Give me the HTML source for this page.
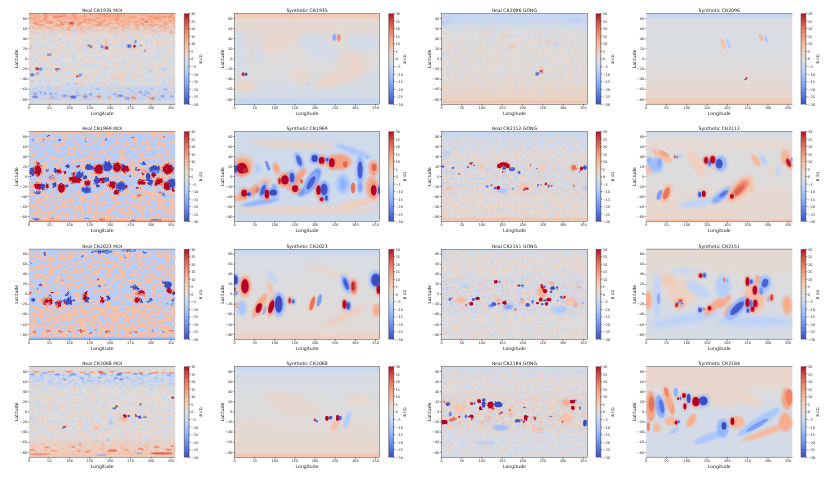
<!DOCTYPE html><html><head><meta charset="utf-8"><style>html,body{margin:0;padding:0;background:#fff;}svg{display:block}text{font-family:'DejaVu Sans', 'Liberation Sans', sans-serif;fill:#111;text-rendering:geometricPrecision}</style></head><body>
<svg width="830" height="478" viewBox="0 0 830 478">
<defs><linearGradient id="cb" x1="0" y1="1" x2="0" y2="0">
<stop offset="0" stop-color="#3b4cc0"/>
<stop offset="0.05" stop-color="#4961d2"/>
<stop offset="0.1" stop-color="#5977e3"/>
<stop offset="0.15" stop-color="#6a8bef"/>
<stop offset="0.2" stop-color="#7b9ff9"/>
<stop offset="0.25" stop-color="#8db0fe"/>
<stop offset="0.3" stop-color="#9ebeff"/>
<stop offset="0.35" stop-color="#afcafc"/>
<stop offset="0.4" stop-color="#c0d4f5"/>
<stop offset="0.45" stop-color="#cfdaea"/>
<stop offset="0.5" stop-color="#dddcdc"/>
<stop offset="0.55" stop-color="#e9d5cb"/>
<stop offset="0.6" stop-color="#f2cbb7"/>
<stop offset="0.65" stop-color="#f6bda2"/>
<stop offset="0.7" stop-color="#f7ac8e"/>
<stop offset="0.75" stop-color="#f4987a"/>
<stop offset="0.8" stop-color="#ee8468"/>
<stop offset="0.85" stop-color="#e36c55"/>
<stop offset="0.9" stop-color="#d65244"/>
<stop offset="0.95" stop-color="#c53334"/>
<stop offset="1" stop-color="#b40426"/>
</linearGradient>
<filter id="b0_4" x="-50%" y="-50%" width="200%" height="200%"><feGaussianBlur stdDeviation="0.4"/></filter>
<filter id="b0_6" x="-50%" y="-50%" width="200%" height="200%"><feGaussianBlur stdDeviation="0.6"/></filter>
<filter id="b0_8" x="-50%" y="-50%" width="200%" height="200%"><feGaussianBlur stdDeviation="0.8"/></filter>
<filter id="b1" x="-50%" y="-50%" width="200%" height="200%"><feGaussianBlur stdDeviation="1"/></filter>
<filter id="b1_5" x="-50%" y="-50%" width="200%" height="200%"><feGaussianBlur stdDeviation="1.5"/></filter>
<filter id="b2" x="-50%" y="-50%" width="200%" height="200%"><feGaussianBlur stdDeviation="2"/></filter>
<filter id="b3" x="-50%" y="-50%" width="200%" height="200%"><feGaussianBlur stdDeviation="3"/></filter>
<filter id="b4" x="-50%" y="-50%" width="200%" height="200%"><feGaussianBlur stdDeviation="4"/></filter>
<filter id="b6" x="-50%" y="-50%" width="200%" height="200%"><feGaussianBlur stdDeviation="6"/></filter>
<clipPath id="c00"><rect x="29.1" y="13.5" width="146.1" height="90.9"/></clipPath>
<clipPath id="c01"><rect x="234.5" y="13.5" width="145.1" height="90.9"/></clipPath>
<clipPath id="c02"><rect x="441.5" y="13.5" width="146" height="90.9"/></clipPath>
<clipPath id="c03"><rect x="646.2" y="13.5" width="146.1" height="90.9"/></clipPath>
<clipPath id="c10"><rect x="29.1" y="131.5" width="146.1" height="90.1"/></clipPath>
<clipPath id="c11"><rect x="234.5" y="131.5" width="145.1" height="90.1"/></clipPath>
<clipPath id="c12"><rect x="441.5" y="131.5" width="146" height="90.1"/></clipPath>
<clipPath id="c13"><rect x="646.2" y="131.5" width="146.1" height="90.1"/></clipPath>
<clipPath id="c20"><rect x="29.1" y="249.2" width="146.1" height="90.2"/></clipPath>
<clipPath id="c21"><rect x="234.5" y="249.2" width="145.1" height="90.2"/></clipPath>
<clipPath id="c22"><rect x="441.5" y="249.2" width="146" height="90.2"/></clipPath>
<clipPath id="c23"><rect x="646.2" y="249.2" width="146.1" height="90.2"/></clipPath>
<clipPath id="c30"><rect x="29.1" y="366.5" width="146.1" height="90.9"/></clipPath>
<clipPath id="c31"><rect x="234.5" y="366.5" width="145.1" height="90.9"/></clipPath>
<clipPath id="c32"><rect x="441.5" y="366.5" width="146" height="90.9"/></clipPath>
<clipPath id="c33"><rect x="646.2" y="366.5" width="146.1" height="90.9"/></clipPath>
<filter id="bz1" x="-50%" y="-50%" width="200%" height="200%"><feGaussianBlur stdDeviation="1"/></filter><filter id="bz2" x="-50%" y="-50%" width="200%" height="200%"><feGaussianBlur stdDeviation="2"/></filter><filter id="bz3" x="-50%" y="-50%" width="200%" height="200%"><feGaussianBlur stdDeviation="3"/></filter><filter id="bz4" x="-50%" y="-50%" width="200%" height="200%"><feGaussianBlur stdDeviation="4"/></filter><filter id="bz5" x="-50%" y="-50%" width="200%" height="200%"><feGaussianBlur stdDeviation="5"/></filter><filter id="bz6" x="-50%" y="-50%" width="200%" height="200%"><feGaussianBlur stdDeviation="6"/></filter><filter id="bz8" x="-50%" y="-50%" width="200%" height="200%"><feGaussianBlur stdDeviation="8"/></filter><filter id="bz10" x="-50%" y="-50%" width="200%" height="200%"><feGaussianBlur stdDeviation="10"/></filter><filter id="bz12" x="-50%" y="-50%" width="200%" height="200%"><feGaussianBlur stdDeviation="12"/></filter><filter id="bz15" x="-50%" y="-50%" width="200%" height="200%"><feGaussianBlur stdDeviation="15"/></filter><filter id="bz20" x="-50%" y="-50%" width="200%" height="200%"><feGaussianBlur stdDeviation="20"/></filter><filter id="bz25" x="-50%" y="-50%" width="200%" height="200%"><feGaussianBlur stdDeviation="25"/></filter><filter id="bz30" x="-50%" y="-50%" width="200%" height="200%"><feGaussianBlur stdDeviation="30"/></filter>
<linearGradient id="g00" x1="0" y1="0" x2="0" y2="478" gradientUnits="userSpaceOnUse"><stop offset="0.0000" stop-color="#f7ac8e"/><stop offset="0.0209" stop-color="#f7a688"/><stop offset="0.0628" stop-color="#f7ac8e"/><stop offset="0.1046" stop-color="#f7b89c"/><stop offset="0.1464" stop-color="#f3c7b1"/><stop offset="0.1987" stop-color="#edd2c3"/><stop offset="0.2615" stop-color="#e1dad6"/><stop offset="0.4184" stop-color="#dfdbd9"/><stop offset="0.6276" stop-color="#dfdbd9"/><stop offset="0.7741" stop-color="#d4dbe6"/><stop offset="0.8201" stop-color="#b5cdfa"/><stop offset="0.9414" stop-color="#b5cdfa"/><stop offset="0.9665" stop-color="#d8dce2"/><stop offset="1.0000" stop-color="#e1dad6"/></linearGradient><filter id="m00_0" x="0" y="40" width="764" height="438" filterUnits="userSpaceOnUse" color-interpolation-filters="sRGB"><feTurbulence type="fractalNoise" baseFrequency="0.032 0.05" numOctaves="2" seed="3"/><feColorMatrix type="matrix" values="2.5 0 0 0 -0.750 2.5 0 0 0 -0.750 2.5 0 0 0 -0.750 0 0 0 0 0.6"/><feComponentTransfer><feFuncR type="table" tableValues="0.753 0.780 0.812 0.839 0.867 0.890 0.914 0.933 0.949"/><feFuncG type="table" tableValues="0.831 0.843 0.855 0.863 0.863 0.851 0.835 0.816 0.796"/><feFuncB type="table" tableValues="0.961 0.941 0.918 0.894 0.863 0.827 0.796 0.753 0.718"/></feComponentTransfer></filter><linearGradient id="k00_0g" x1="0" y1="40" x2="0" y2="478" gradientUnits="userSpaceOnUse"><stop offset="0" stop-color="#fff" stop-opacity="0"/><stop offset="0.091" stop-color="#fff"/><stop offset="0.909" stop-color="#fff"/><stop offset="1" stop-color="#fff" stop-opacity="1"/></linearGradient><mask id="k00_0" maskUnits="userSpaceOnUse" x="0" y="0" width="764" height="478"><rect y="40" width="764" height="438" fill="url(#k00_0g)"/></mask><filter id="m00_1" x="0" y="0" width="764" height="110" filterUnits="userSpaceOnUse" color-interpolation-filters="sRGB"><feTurbulence type="fractalNoise" baseFrequency="0.04 0.07" numOctaves="2" seed="4"/><feColorMatrix type="matrix" values="2.5 0 0 0 -0.750 2.5 0 0 0 -0.750 2.5 0 0 0 -0.750 0 0 0 0 0.6"/><feComponentTransfer><feFuncR type="table" tableValues="0.914 0.937 0.949 0.961 0.969 0.969 0.965 0.953 0.941"/><feFuncG type="table" tableValues="0.835 0.812 0.788 0.753 0.722 0.678 0.639 0.592 0.545"/><feFuncB type="table" tableValues="0.796 0.749 0.706 0.655 0.612 0.565 0.522 0.471 0.431"/></feComponentTransfer></filter><linearGradient id="k00_1g" x1="0" y1="0" x2="0" y2="110" gradientUnits="userSpaceOnUse"><stop offset="0" stop-color="#fff" stop-opacity="1"/><stop offset="0.455" stop-color="#fff"/><stop offset="0.545" stop-color="#fff"/><stop offset="1" stop-color="#fff" stop-opacity="0"/></linearGradient><mask id="k00_1" maskUnits="userSpaceOnUse" x="0" y="0" width="764" height="478"><rect y="0" width="764" height="110" fill="url(#k00_1g)"/></mask><filter id="d00" x="-20" y="-20" width="804" height="518" filterUnits="userSpaceOnUse" color-interpolation-filters="sRGB"><feTurbulence type="fractalNoise" baseFrequency="0.1" numOctaves="2" seed="3" result="t"/><feDisplacementMap in="SourceGraphic" in2="t" scale="12" xChannelSelector="R" yChannelSelector="G"/></filter>
<linearGradient id="g01" x1="0" y1="0" x2="0" y2="478" gradientUnits="userSpaceOnUse"><stop offset="0.0000" stop-color="#f2cbb7"/><stop offset="0.0544" stop-color="#f2cbb7"/><stop offset="0.0628" stop-color="#e5d8d1"/><stop offset="0.2092" stop-color="#e1dad6"/><stop offset="0.6276" stop-color="#dddcdc"/><stop offset="0.9205" stop-color="#d4dbe6"/><stop offset="0.9414" stop-color="#c5d6f2"/><stop offset="1.0000" stop-color="#c5d6f2"/></linearGradient>
<linearGradient id="g02" x1="0" y1="0" x2="0" y2="478" gradientUnits="userSpaceOnUse"><stop offset="0.0000" stop-color="#cfdaea"/><stop offset="0.0209" stop-color="#c5d6f2"/><stop offset="0.0837" stop-color="#c7d7f0"/><stop offset="0.1674" stop-color="#d2dbe8"/><stop offset="0.2301" stop-color="#dddcdc"/><stop offset="0.4184" stop-color="#e1dad6"/><stop offset="0.6276" stop-color="#e1dad6"/><stop offset="0.7531" stop-color="#e5d8d1"/><stop offset="0.8368" stop-color="#edd2c3"/><stop offset="0.9414" stop-color="#edd2c3"/><stop offset="0.9561" stop-color="#edd2c3"/><stop offset="0.9603" stop-color="#f6bda2"/><stop offset="0.9707" stop-color="#f6bda2"/><stop offset="0.9770" stop-color="#e9d5cb"/><stop offset="1.0000" stop-color="#e9d5cb"/></linearGradient><filter id="m02_0" x="0" y="30" width="764" height="425" filterUnits="userSpaceOnUse" color-interpolation-filters="sRGB"><feTurbulence type="fractalNoise" baseFrequency="0.032 0.05" numOctaves="2" seed="11"/><feColorMatrix type="matrix" values="2.5 0 0 0 -0.750 2.5 0 0 0 -0.750 2.5 0 0 0 -0.750 0 0 0 0 0.4"/><feComponentTransfer><feFuncR type="table" tableValues="0.773 0.800 0.824 0.843 0.867 0.886 0.906 0.925 0.937"/><feFuncG type="table" tableValues="0.839 0.851 0.859 0.863 0.863 0.855 0.843 0.827 0.808"/><feFuncB type="table" tableValues="0.949 0.929 0.910 0.890 0.863 0.835 0.808 0.773 0.741"/></feComponentTransfer></filter><linearGradient id="k02_0g" x1="0" y1="30" x2="0" y2="455" gradientUnits="userSpaceOnUse"><stop offset="0" stop-color="#fff" stop-opacity="0"/><stop offset="0.118" stop-color="#fff"/><stop offset="0.882" stop-color="#fff"/><stop offset="1" stop-color="#fff" stop-opacity="0"/></linearGradient><mask id="k02_0" maskUnits="userSpaceOnUse" x="0" y="0" width="764" height="478"><rect y="30" width="764" height="425" fill="url(#k02_0g)"/></mask><filter id="d02" x="-20" y="-20" width="804" height="518" filterUnits="userSpaceOnUse" color-interpolation-filters="sRGB"><feTurbulence type="fractalNoise" baseFrequency="0.1" numOctaves="2" seed="5" result="t"/><feDisplacementMap in="SourceGraphic" in2="t" scale="12" xChannelSelector="R" yChannelSelector="G"/></filter>
<linearGradient id="g03" x1="0" y1="0" x2="0" y2="478" gradientUnits="userSpaceOnUse"><stop offset="0.0000" stop-color="#c5d6f2"/><stop offset="0.0523" stop-color="#c5d6f2"/><stop offset="0.0628" stop-color="#d8dce2"/><stop offset="0.4184" stop-color="#dadce0"/><stop offset="0.7322" stop-color="#e1dad6"/><stop offset="0.9205" stop-color="#e9d5cb"/><stop offset="0.9519" stop-color="#f2cbb7"/><stop offset="1.0000" stop-color="#f2cbb7"/></linearGradient>
<linearGradient id="g10" x1="0" y1="0" x2="0" y2="478" gradientUnits="userSpaceOnUse"><stop offset="0.0000" stop-color="#f5c1a9"/><stop offset="0.0167" stop-color="#f5c1a9"/><stop offset="0.0251" stop-color="#b5cdfa"/><stop offset="0.9623" stop-color="#b5cdfa"/><stop offset="0.9707" stop-color="#f5a081"/><stop offset="1.0000" stop-color="#f5a081"/></linearGradient><filter id="t10_0" x="0" y="10" width="764" height="140" filterUnits="userSpaceOnUse" color-interpolation-filters="sRGB"><feTurbulence type="fractalNoise" baseFrequency="0.03 0.06" numOctaves="3" seed="5"/><feColorMatrix type="matrix" values="0 0 0 0 0.961 0 0 0 0 0.757 0 0 0 0 0.663 12 0 0 0 -6.1"/></filter><filter id="t10_1" x="0" y="150" width="764" height="180" filterUnits="userSpaceOnUse" color-interpolation-filters="sRGB"><feTurbulence type="fractalNoise" baseFrequency="0.03 0.06" numOctaves="3" seed="5"/><feColorMatrix type="matrix" values="0 0 0 0 0.961 0 0 0 0 0.757 0 0 0 0 0.663 12 0 0 0 -5.9"/></filter><filter id="t10_2" x="0" y="330" width="764" height="132" filterUnits="userSpaceOnUse" color-interpolation-filters="sRGB"><feTurbulence type="fractalNoise" baseFrequency="0.03 0.06" numOctaves="3" seed="5"/><feColorMatrix type="matrix" values="0 0 0 0 0.961 0 0 0 0 0.757 0 0 0 0 0.663 12 0 0 0 -5.4"/></filter><filter id="d10" x="-20" y="-20" width="804" height="518" filterUnits="userSpaceOnUse" color-interpolation-filters="sRGB"><feTurbulence type="fractalNoise" baseFrequency="0.09" numOctaves="2" seed="7" result="t"/><feDisplacementMap in="SourceGraphic" in2="t" scale="20" xChannelSelector="R" yChannelSelector="G"/></filter>
<linearGradient id="g11" x1="0" y1="0" x2="0" y2="478" gradientUnits="userSpaceOnUse"><stop offset="0.0000" stop-color="#cfdaea"/><stop offset="1.0000" stop-color="#cfdaea"/></linearGradient>
<linearGradient id="g12" x1="0" y1="0" x2="0" y2="478" gradientUnits="userSpaceOnUse"><stop offset="0.0000" stop-color="#cfdaea"/><stop offset="0.0167" stop-color="#c5d6f2"/><stop offset="0.0523" stop-color="#cad8ef"/><stop offset="0.2092" stop-color="#d4dbe6"/><stop offset="0.2406" stop-color="#e5d8d1"/><stop offset="0.3138" stop-color="#e1dad6"/><stop offset="0.4812" stop-color="#d4dbe6"/><stop offset="0.5649" stop-color="#d8dce2"/><stop offset="0.6904" stop-color="#e5d8d1"/><stop offset="0.9414" stop-color="#e9d5cb"/><stop offset="0.9540" stop-color="#f5c1a9"/><stop offset="0.9665" stop-color="#f5c1a9"/><stop offset="0.9749" stop-color="#e9d5cb"/><stop offset="1.0000" stop-color="#e9d5cb"/></linearGradient><filter id="m12_0" x="0" y="30" width="764" height="420" filterUnits="userSpaceOnUse" color-interpolation-filters="sRGB"><feTurbulence type="fractalNoise" baseFrequency="0.032 0.05" numOctaves="2" seed="21"/><feColorMatrix type="matrix" values="2.5 0 0 0 -0.750 2.5 0 0 0 -0.750 2.5 0 0 0 -0.750 0 0 0 0 0.5"/><feComponentTransfer><feFuncR type="table" tableValues="0.753 0.780 0.812 0.839 0.867 0.890 0.914 0.933 0.949"/><feFuncG type="table" tableValues="0.831 0.843 0.855 0.863 0.863 0.851 0.835 0.816 0.796"/><feFuncB type="table" tableValues="0.961 0.941 0.918 0.894 0.863 0.827 0.796 0.753 0.718"/></feComponentTransfer></filter><filter id="m12_1" x="0" y="140" width="764" height="200" filterUnits="userSpaceOnUse" color-interpolation-filters="sRGB"><feTurbulence type="fractalNoise" baseFrequency="0.045 0.07" numOctaves="2" seed="23"/><feColorMatrix type="matrix" values="2.2 0 0 0 -0.600 2.2 0 0 0 -0.600 2.2 0 0 0 -0.600 0 0 0 0 0.5"/><feComponentTransfer><feFuncR type="table" tableValues="0.686 0.737 0.780 0.827 0.867 0.902 0.933 0.953 0.965"/><feFuncG type="table" tableValues="0.792 0.824 0.843 0.859 0.863 0.843 0.816 0.784 0.741"/><feFuncB type="table" tableValues="0.988 0.969 0.941 0.906 0.863 0.812 0.753 0.698 0.635"/></feComponentTransfer></filter><linearGradient id="k12_1g" x1="0" y1="140" x2="0" y2="340" gradientUnits="userSpaceOnUse"><stop offset="0" stop-color="#fff" stop-opacity="0"/><stop offset="0.250" stop-color="#fff"/><stop offset="0.750" stop-color="#fff"/><stop offset="1" stop-color="#fff" stop-opacity="0"/></linearGradient><mask id="k12_1" maskUnits="userSpaceOnUse" x="0" y="0" width="764" height="478"><rect y="140" width="764" height="200" fill="url(#k12_1g)"/></mask><filter id="d12" x="-20" y="-20" width="804" height="518" filterUnits="userSpaceOnUse" color-interpolation-filters="sRGB"><feTurbulence type="fractalNoise" baseFrequency="0.1" numOctaves="2" seed="8" result="t"/><feDisplacementMap in="SourceGraphic" in2="t" scale="12" xChannelSelector="R" yChannelSelector="G"/></filter>
<linearGradient id="g13" x1="0" y1="0" x2="0" y2="478" gradientUnits="userSpaceOnUse"><stop offset="0.0000" stop-color="#d4dbe6"/><stop offset="0.0418" stop-color="#d4dbe6"/><stop offset="0.0628" stop-color="#dddcdc"/><stop offset="0.1674" stop-color="#e5d8d1"/><stop offset="0.2301" stop-color="#dddcdc"/><stop offset="0.5230" stop-color="#dddcdc"/><stop offset="0.7950" stop-color="#e5d8d1"/><stop offset="0.9519" stop-color="#e9d5cb"/><stop offset="0.9665" stop-color="#f5c1a9"/><stop offset="0.9833" stop-color="#f5c1a9"/><stop offset="1.0000" stop-color="#e9d5cb"/></linearGradient>
<linearGradient id="g20" x1="0" y1="0" x2="0" y2="478" gradientUnits="userSpaceOnUse"><stop offset="0.0000" stop-color="#f5c1a9"/><stop offset="0.0105" stop-color="#b5cdfa"/><stop offset="0.9623" stop-color="#b5cdfa"/><stop offset="0.9749" stop-color="#9ebeff"/><stop offset="1.0000" stop-color="#9ebeff"/></linearGradient><filter id="t20_0" x="0" y="25" width="764" height="175" filterUnits="userSpaceOnUse" color-interpolation-filters="sRGB"><feTurbulence type="fractalNoise" baseFrequency="0.03 0.06" numOctaves="3" seed="9"/><feColorMatrix type="matrix" values="0 0 0 0 0.961 0 0 0 0 0.757 0 0 0 0 0.663 12 0 0 0 -5.6"/></filter><filter id="t20_1" x="0" y="200" width="764" height="100" filterUnits="userSpaceOnUse" color-interpolation-filters="sRGB"><feTurbulence type="fractalNoise" baseFrequency="0.03 0.06" numOctaves="3" seed="9"/><feColorMatrix type="matrix" values="0 0 0 0 0.961 0 0 0 0 0.757 0 0 0 0 0.663 12 0 0 0 -6.2"/></filter><filter id="t20_2" x="0" y="300" width="764" height="162" filterUnits="userSpaceOnUse" color-interpolation-filters="sRGB"><feTurbulence type="fractalNoise" baseFrequency="0.03 0.06" numOctaves="3" seed="9"/><feColorMatrix type="matrix" values="0 0 0 0 0.961 0 0 0 0 0.757 0 0 0 0 0.663 12 0 0 0 -4.9"/></filter><filter id="d20" x="-20" y="-20" width="804" height="518" filterUnits="userSpaceOnUse" color-interpolation-filters="sRGB"><feTurbulence type="fractalNoise" baseFrequency="0.09" numOctaves="2" seed="23" result="t"/><feDisplacementMap in="SourceGraphic" in2="t" scale="20" xChannelSelector="R" yChannelSelector="G"/></filter>
<linearGradient id="g21" x1="0" y1="0" x2="0" y2="478" gradientUnits="userSpaceOnUse"><stop offset="0.0000" stop-color="#cfdaea"/><stop offset="0.0167" stop-color="#c5d6f2"/><stop offset="0.0523" stop-color="#cad8ef"/><stop offset="0.0837" stop-color="#d8dce2"/><stop offset="0.5230" stop-color="#dddcdc"/><stop offset="0.8996" stop-color="#e1dad6"/><stop offset="0.9623" stop-color="#edd2c3"/><stop offset="1.0000" stop-color="#edd2c3"/></linearGradient>
<linearGradient id="g22" x1="0" y1="0" x2="0" y2="478" gradientUnits="userSpaceOnUse"><stop offset="0.0000" stop-color="#d4dbe6"/><stop offset="0.0209" stop-color="#cfdaea"/><stop offset="0.1255" stop-color="#e5d8d1"/><stop offset="0.2720" stop-color="#e1dad6"/><stop offset="0.3347" stop-color="#d4dbe6"/><stop offset="0.6904" stop-color="#d4dbe6"/><stop offset="0.7322" stop-color="#dddcdc"/><stop offset="0.9414" stop-color="#e1dad6"/><stop offset="1.0000" stop-color="#dddcdc"/></linearGradient><filter id="m22_0" x="0" y="20" width="764" height="450" filterUnits="userSpaceOnUse" color-interpolation-filters="sRGB"><feTurbulence type="fractalNoise" baseFrequency="0.032 0.05" numOctaves="2" seed="31"/><feColorMatrix type="matrix" values="2.5 0 0 0 -0.750 2.5 0 0 0 -0.750 2.5 0 0 0 -0.750 0 0 0 0 0.5"/><feComponentTransfer><feFuncR type="table" tableValues="0.753 0.780 0.812 0.839 0.867 0.890 0.914 0.933 0.949"/><feFuncG type="table" tableValues="0.831 0.843 0.855 0.863 0.863 0.851 0.835 0.816 0.796"/><feFuncB type="table" tableValues="0.961 0.941 0.918 0.894 0.863 0.827 0.796 0.753 0.718"/></feComponentTransfer></filter><filter id="m22_1" x="0" y="140" width="764" height="210" filterUnits="userSpaceOnUse" color-interpolation-filters="sRGB"><feTurbulence type="fractalNoise" baseFrequency="0.045 0.07" numOctaves="2" seed="33"/><feColorMatrix type="matrix" values="2.2 0 0 0 -0.600 2.2 0 0 0 -0.600 2.2 0 0 0 -0.600 0 0 0 0 0.5"/><feComponentTransfer><feFuncR type="table" tableValues="0.667 0.725 0.773 0.824 0.867 0.906 0.937 0.961 0.969"/><feFuncG type="table" tableValues="0.780 0.816 0.839 0.859 0.863 0.843 0.808 0.769 0.722"/><feFuncB type="table" tableValues="0.992 0.976 0.949 0.910 0.863 0.808 0.741 0.675 0.612"/></feComponentTransfer></filter><linearGradient id="k22_1g" x1="0" y1="140" x2="0" y2="350" gradientUnits="userSpaceOnUse"><stop offset="0" stop-color="#fff" stop-opacity="0"/><stop offset="0.238" stop-color="#fff"/><stop offset="0.762" stop-color="#fff"/><stop offset="1" stop-color="#fff" stop-opacity="0"/></linearGradient><mask id="k22_1" maskUnits="userSpaceOnUse" x="0" y="0" width="764" height="478"><rect y="140" width="764" height="210" fill="url(#k22_1g)"/></mask><filter id="d22" x="-20" y="-20" width="804" height="518" filterUnits="userSpaceOnUse" color-interpolation-filters="sRGB"><feTurbulence type="fractalNoise" baseFrequency="0.09" numOctaves="2" seed="25" result="t"/><feDisplacementMap in="SourceGraphic" in2="t" scale="12" xChannelSelector="R" yChannelSelector="G"/></filter>
<linearGradient id="g23" x1="0" y1="0" x2="0" y2="478" gradientUnits="userSpaceOnUse"><stop offset="0.0000" stop-color="#e1dad6"/><stop offset="0.0209" stop-color="#e3d9d3"/><stop offset="0.2092" stop-color="#e3d9d3"/><stop offset="0.3347" stop-color="#dddcdc"/><stop offset="0.6276" stop-color="#d8dce2"/><stop offset="0.8787" stop-color="#d4dbe6"/><stop offset="0.9833" stop-color="#d8dce2"/><stop offset="1.0000" stop-color="#d8dce2"/></linearGradient>
<linearGradient id="g30" x1="0" y1="0" x2="0" y2="478" gradientUnits="userSpaceOnUse"><stop offset="0.0000" stop-color="#dddcdc"/><stop offset="0.0314" stop-color="#dddcdc"/><stop offset="0.0523" stop-color="#e9d5cb"/><stop offset="0.0941" stop-color="#d4dbe6"/><stop offset="0.1255" stop-color="#c5d6f2"/><stop offset="0.2092" stop-color="#cad8ef"/><stop offset="0.2510" stop-color="#dddcdc"/><stop offset="0.4184" stop-color="#e1dad6"/><stop offset="0.6276" stop-color="#e1dad6"/><stop offset="0.7950" stop-color="#e5d8d1"/><stop offset="0.8368" stop-color="#efcebd"/><stop offset="0.9205" stop-color="#f2cbb7"/><stop offset="0.9623" stop-color="#f5c1a9"/><stop offset="0.9833" stop-color="#e9d5cb"/><stop offset="1.0000" stop-color="#dddcdc"/></linearGradient><filter id="m30_0" x="0" y="60" width="764" height="360" filterUnits="userSpaceOnUse" color-interpolation-filters="sRGB"><feTurbulence type="fractalNoise" baseFrequency="0.032 0.05" numOctaves="2" seed="41"/><feColorMatrix type="matrix" values="2.5 0 0 0 -0.750 2.5 0 0 0 -0.750 2.5 0 0 0 -0.750 0 0 0 0 0.6"/><feComponentTransfer><feFuncR type="table" tableValues="0.753 0.780 0.812 0.839 0.867 0.890 0.914 0.933 0.949"/><feFuncG type="table" tableValues="0.831 0.843 0.855 0.863 0.863 0.851 0.835 0.816 0.796"/><feFuncB type="table" tableValues="0.961 0.941 0.918 0.894 0.863 0.827 0.796 0.753 0.718"/></feComponentTransfer></filter><linearGradient id="k30_0g" x1="0" y1="60" x2="0" y2="420" gradientUnits="userSpaceOnUse"><stop offset="0" stop-color="#fff" stop-opacity="0"/><stop offset="0.111" stop-color="#fff"/><stop offset="0.889" stop-color="#fff"/><stop offset="1" stop-color="#fff" stop-opacity="0"/></linearGradient><mask id="k30_0" maskUnits="userSpaceOnUse" x="0" y="0" width="764" height="478"><rect y="60" width="764" height="360" fill="url(#k30_0g)"/></mask><filter id="m30_1" x="0" y="15" width="764" height="95" filterUnits="userSpaceOnUse" color-interpolation-filters="sRGB"><feTurbulence type="fractalNoise" baseFrequency="0.04 0.07" numOctaves="2" seed="43"/><feColorMatrix type="matrix" values="2.5 0 0 0 -0.750 2.5 0 0 0 -0.750 2.5 0 0 0 -0.750 0 0 0 0 0.6"/><feComponentTransfer><feFuncR type="table" tableValues="0.620 0.667 0.710 0.753 0.792 0.831 0.867 0.898 0.929"/><feFuncG type="table" tableValues="0.745 0.780 0.804 0.831 0.847 0.859 0.863 0.847 0.824"/><feFuncB type="table" tableValues="1.000 0.992 0.980 0.961 0.937 0.902 0.863 0.820 0.765"/></feComponentTransfer></filter><linearGradient id="k30_1g" x1="0" y1="15" x2="0" y2="110" gradientUnits="userSpaceOnUse"><stop offset="0" stop-color="#fff" stop-opacity="0"/><stop offset="0.316" stop-color="#fff"/><stop offset="0.684" stop-color="#fff"/><stop offset="1" stop-color="#fff" stop-opacity="0"/></linearGradient><mask id="k30_1" maskUnits="userSpaceOnUse" x="0" y="0" width="764" height="478"><rect y="15" width="764" height="95" fill="url(#k30_1g)"/></mask><filter id="m30_2" x="0" y="385" width="764" height="87" filterUnits="userSpaceOnUse" color-interpolation-filters="sRGB"><feTurbulence type="fractalNoise" baseFrequency="0.04 0.08" numOctaves="2" seed="44"/><feColorMatrix type="matrix" values="2.5 0 0 0 -0.750 2.5 0 0 0 -0.750 2.5 0 0 0 -0.750 0 0 0 0 0.5"/><feComponentTransfer><feFuncR type="table" tableValues="0.812 0.847 0.878 0.910 0.933 0.949 0.961 0.969 0.969"/><feFuncG type="table" tableValues="0.855 0.863 0.859 0.839 0.816 0.788 0.753 0.718 0.675"/><feFuncB type="table" tableValues="0.918 0.886 0.847 0.800 0.753 0.706 0.655 0.608 0.557"/></feComponentTransfer></filter><linearGradient id="k30_2g" x1="0" y1="385" x2="0" y2="472" gradientUnits="userSpaceOnUse"><stop offset="0" stop-color="#fff" stop-opacity="0"/><stop offset="0.345" stop-color="#fff"/><stop offset="0.655" stop-color="#fff"/><stop offset="1" stop-color="#fff" stop-opacity="0"/></linearGradient><mask id="k30_2" maskUnits="userSpaceOnUse" x="0" y="0" width="764" height="478"><rect y="385" width="764" height="87" fill="url(#k30_2g)"/></mask><filter id="d30" x="-20" y="-20" width="804" height="518" filterUnits="userSpaceOnUse" color-interpolation-filters="sRGB"><feTurbulence type="fractalNoise" baseFrequency="0.1" numOctaves="2" seed="33" result="t"/><feDisplacementMap in="SourceGraphic" in2="t" scale="12" xChannelSelector="R" yChannelSelector="G"/></filter>
<linearGradient id="g31" x1="0" y1="0" x2="0" y2="478" gradientUnits="userSpaceOnUse"><stop offset="0.0000" stop-color="#c5d6f2"/><stop offset="0.0460" stop-color="#c5d6f2"/><stop offset="0.0586" stop-color="#d4dbe6"/><stop offset="0.1464" stop-color="#d8dce2"/><stop offset="0.5230" stop-color="#dddcdc"/><stop offset="0.7950" stop-color="#e5d8d1"/><stop offset="0.9414" stop-color="#e9d5cb"/><stop offset="0.9540" stop-color="#f3c7b1"/><stop offset="0.9833" stop-color="#f3c7b1"/><stop offset="1.0000" stop-color="#e9d5cb"/></linearGradient>
<linearGradient id="g32" x1="0" y1="0" x2="0" y2="478" gradientUnits="userSpaceOnUse"><stop offset="0.0000" stop-color="#d4dbe6"/><stop offset="0.0209" stop-color="#cfdaea"/><stop offset="0.1674" stop-color="#e1dad6"/><stop offset="0.2720" stop-color="#dddcdc"/><stop offset="0.2929" stop-color="#e5d8d1"/><stop offset="0.6904" stop-color="#e1dad6"/><stop offset="0.7531" stop-color="#d4dbe6"/><stop offset="0.9623" stop-color="#d8dce2"/><stop offset="1.0000" stop-color="#d8dce2"/></linearGradient><filter id="m32_0" x="0" y="20" width="764" height="450" filterUnits="userSpaceOnUse" color-interpolation-filters="sRGB"><feTurbulence type="fractalNoise" baseFrequency="0.032 0.05" numOctaves="2" seed="51"/><feColorMatrix type="matrix" values="2.5 0 0 0 -0.750 2.5 0 0 0 -0.750 2.5 0 0 0 -0.750 0 0 0 0 0.5"/><feComponentTransfer><feFuncR type="table" tableValues="0.753 0.780 0.812 0.839 0.867 0.890 0.914 0.933 0.949"/><feFuncG type="table" tableValues="0.831 0.843 0.855 0.863 0.863 0.851 0.835 0.816 0.796"/><feFuncB type="table" tableValues="0.961 0.941 0.918 0.894 0.863 0.827 0.796 0.753 0.718"/></feComponentTransfer></filter><filter id="m32_1" x="0" y="130" width="764" height="220" filterUnits="userSpaceOnUse" color-interpolation-filters="sRGB"><feTurbulence type="fractalNoise" baseFrequency="0.045 0.07" numOctaves="2" seed="53"/><feColorMatrix type="matrix" values="2.2 0 0 0 -0.600 2.2 0 0 0 -0.600 2.2 0 0 0 -0.600 0 0 0 0 0.5"/><feComponentTransfer><feFuncR type="table" tableValues="0.686 0.745 0.800 0.847 0.890 0.929 0.953 0.969 0.969"/><feFuncG type="table" tableValues="0.792 0.824 0.851 0.863 0.851 0.824 0.784 0.729 0.675"/><feFuncB type="table" tableValues="0.988 0.965 0.929 0.886 0.827 0.765 0.698 0.624 0.557"/></feComponentTransfer></filter><linearGradient id="k32_1g" x1="0" y1="130" x2="0" y2="350" gradientUnits="userSpaceOnUse"><stop offset="0" stop-color="#fff" stop-opacity="0"/><stop offset="0.227" stop-color="#fff"/><stop offset="0.773" stop-color="#fff"/><stop offset="1" stop-color="#fff" stop-opacity="0"/></linearGradient><mask id="k32_1" maskUnits="userSpaceOnUse" x="0" y="0" width="764" height="478"><rect y="130" width="764" height="220" fill="url(#k32_1g)"/></mask><filter id="d32" x="-20" y="-20" width="804" height="518" filterUnits="userSpaceOnUse" color-interpolation-filters="sRGB"><feTurbulence type="fractalNoise" baseFrequency="0.1" numOctaves="2" seed="35" result="t"/><feDisplacementMap in="SourceGraphic" in2="t" scale="12" xChannelSelector="R" yChannelSelector="G"/></filter>
<linearGradient id="g33" x1="0" y1="0" x2="0" y2="478" gradientUnits="userSpaceOnUse"><stop offset="0.0000" stop-color="#e9d5cb"/><stop offset="0.1883" stop-color="#e9d5cb"/><stop offset="0.2720" stop-color="#dddcdc"/><stop offset="0.4184" stop-color="#d4dbe6"/><stop offset="1.0000" stop-color="#d4dbe6"/></linearGradient>
</defs>
<g clip-path="url(#c00)"><g transform="translate(29.1 13.5)">
<g transform="translate(-0.1 -0.5) scale(0.19241)"><rect width="764" height="478" fill="url(#g00)"/><g mask="url(#k00_0)"><rect y="40" width="764" height="438" filter="url(#m00_0)"/></g><g mask="url(#k00_1)"><rect y="0" width="764" height="110" filter="url(#m00_1)"/></g><g filter="url(#d00)"><g filter="url(#bz3)"><ellipse cx="153" cy="18" rx="28" ry="6" fill="#ee8468"/></g><g filter="url(#bz6)"><ellipse cx="420" cy="16" rx="45" ry="5" fill="#f4987a"/><ellipse cx="660" cy="26" rx="30" ry="8" fill="#f29274"/><ellipse cx="232" cy="22" rx="30" ry="5" fill="#f5a081"/><ellipse cx="343" cy="32" rx="20" ry="5" fill="#f5a081"/><ellipse cx="30" cy="30" rx="25" ry="6" fill="#f7a688"/></g><g filter="url(#bz3)"><ellipse cx="222.7" cy="54.2" rx="14" ry="6" fill="#cc403a"/><ellipse cx="39.4" cy="56" rx="10" ry="5" fill="#ee8468"/></g><g filter="url(#bz6)"><ellipse cx="85.8" cy="41.2" rx="10" ry="6" fill="#f29274"/><ellipse cx="139" cy="66.7" rx="8" ry="6" fill="#f29274"/></g><g filter="url(#bz3)"><ellipse cx="174" cy="59.8" rx="8" ry="6" fill="#ee8468"/></g><g filter="url(#bz6)"><ellipse cx="255" cy="59.8" rx="8" ry="6" fill="#f29274"/><ellipse cx="306" cy="41.2" rx="12" ry="6" fill="#f29274"/></g><g filter="url(#bz3)"><ellipse cx="369" cy="52.8" rx="12" ry="8" fill="#ee8468"/></g><g filter="url(#bz6)"><ellipse cx="266.8" cy="78.3" rx="8" ry="6" fill="#f5a081"/></g><g filter="url(#bz3)"><ellipse cx="204" cy="85.3" rx="5" ry="5" fill="#e7745b"/><ellipse cx="220" cy="52" rx="14" ry="6" fill="#d1493f"/></g><g filter="url(#bz6)"><ellipse cx="40" cy="56" rx="12" ry="5" fill="#f29274"/></g><g filter="url(#bz3)"><ellipse cx="610" cy="45" rx="12" ry="6" fill="#e7745b"/></g><g filter="url(#bz6)"><ellipse cx="370" cy="50" rx="10" ry="6" fill="#f5a081"/><ellipse cx="500" cy="55" rx="10" ry="5" fill="#f5a081"/><ellipse cx="710" cy="75" rx="8" ry="6" fill="#f29274"/><ellipse cx="280" cy="95" rx="8" ry="6" fill="#f7ac8e"/><ellipse cx="650" cy="100" rx="10" ry="5" fill="#f7ac8e"/><ellipse cx="180" cy="80" rx="15" ry="5" fill="#f7b89c"/><ellipse cx="450" cy="100" rx="10" ry="5" fill="#f7b89c"/><ellipse cx="740" cy="100" rx="10" ry="8" fill="#f5a081"/><ellipse cx="405" cy="170" rx="6" ry="6" fill="#f7ac8e"/></g><g filter="url(#bz2_5)"><ellipse cx="32.4" cy="420" rx="12" ry="6" fill="#7b9ff9"/><ellipse cx="32.4" cy="436.2" rx="16" ry="6" fill="#6485ec"/><ellipse cx="83.4" cy="420" rx="7" ry="6" fill="#86a9fc"/><ellipse cx="60.2" cy="413" rx="6" ry="5" fill="#86a9fc"/><ellipse cx="113.5" cy="420" rx="9" ry="5" fill="#86a9fc"/><ellipse cx="139" cy="417.7" rx="9" ry="4" fill="#86a9fc"/><ellipse cx="125" cy="443.2" rx="23" ry="5" fill="#9ebeff"/><ellipse cx="118" cy="434" rx="12" ry="4" fill="#f29274"/><ellipse cx="185.3" cy="430.7" rx="14" ry="6" fill="#6f92f3"/><ellipse cx="229.3" cy="436.2" rx="16" ry="7" fill="#4961d2"/><ellipse cx="206.2" cy="431.6" rx="5" ry="4" fill="#f5a081"/><ellipse cx="252.5" cy="429.3" rx="10" ry="5" fill="#86a9fc"/><ellipse cx="291.9" cy="434" rx="12" ry="5" fill="#6485ec"/><ellipse cx="319.7" cy="422.3" rx="8" ry="5" fill="#6485ec"/><ellipse cx="291.9" cy="443.2" rx="10" ry="3" fill="#f5a081"/><ellipse cx="363.7" cy="434" rx="12" ry="5" fill="#e7745b"/><ellipse cx="250.2" cy="413" rx="9" ry="4" fill="#93b5fe"/><ellipse cx="97.3" cy="385.3" rx="7" ry="5" fill="#9ebeff"/><ellipse cx="247.9" cy="366.7" rx="5" ry="4" fill="#f29274"/><ellipse cx="18.5" cy="355.1" rx="5" ry="4" fill="#f5a081"/><ellipse cx="9.3" cy="413" rx="6" ry="4" fill="#93b5fe"/><ellipse cx="203.9" cy="369" rx="6" ry="4" fill="#aac7fd"/><ellipse cx="356.7" cy="394.5" rx="8" ry="5" fill="#93b5fe"/><ellipse cx="444.3" cy="422.3" rx="9" ry="4" fill="#6f92f3"/><ellipse cx="474.4" cy="430.7" rx="14" ry="5" fill="#5977e3"/><ellipse cx="511.4" cy="443.2" rx="12" ry="5" fill="#6485ec"/><ellipse cx="543.9" cy="440.9" rx="14" ry="6" fill="#ee8468"/><ellipse cx="497.5" cy="434" rx="10" ry="4" fill="#f5a081"/><ellipse cx="416.5" cy="436.2" rx="10" ry="4" fill="#f5a081"/><ellipse cx="458.2" cy="436.2" rx="8" ry="4" fill="#f7ac8e"/><ellipse cx="578.6" cy="410.7" rx="9" ry="5" fill="#6f92f3"/><ellipse cx="608.7" cy="408.4" rx="8" ry="4" fill="#86a9fc"/><ellipse cx="620.3" cy="417.7" rx="10" ry="4" fill="#7b9ff9"/><ellipse cx="597.1" cy="427" rx="12" ry="4" fill="#7b9ff9"/><ellipse cx="643.5" cy="443.2" rx="14" ry="5" fill="#e0654f"/><ellipse cx="620.3" cy="438.5" rx="8" ry="4" fill="#f29274"/><ellipse cx="555.5" cy="417.7" rx="6" ry="4" fill="#f7ac8e"/><ellipse cx="694.4" cy="431.6" rx="12" ry="5" fill="#6f92f3"/><ellipse cx="710.7" cy="396.8" rx="7" ry="4" fill="#6f92f3"/><ellipse cx="675.9" cy="445.5" rx="8" ry="4" fill="#93b5fe"/><ellipse cx="740.8" cy="434" rx="10" ry="5" fill="#86a9fc"/><ellipse cx="722.2" cy="413" rx="6" ry="4" fill="#f7ac8e"/><ellipse cx="532.3" cy="408.4" rx="7" ry="4" fill="#93b5fe"/><ellipse cx="518.4" cy="394.5" rx="7" ry="4" fill="#9ebeff"/><ellipse cx="750" cy="355" rx="5" ry="4" fill="#f7ac8e"/><ellipse cx="638.8" cy="394.5" rx="8" ry="4" fill="#93b5fe"/></g><g filter="url(#bz6)"><ellipse cx="470" cy="330" rx="40" ry="10" fill="#f2cbb7" transform="rotate(-15 470 330)"/><ellipse cx="700" cy="290" rx="10" ry="8" fill="#aac7fd"/><ellipse cx="630" cy="300" rx="10" ry="8" fill="#aac7fd"/></g><g filter="url(#bz3)"><ellipse cx="310" cy="170" rx="7" ry="6" fill="#5977e3"/><ellipse cx="322" cy="176" rx="6" ry="6" fill="#c0282f"/><ellipse cx="380" cy="175" rx="9" ry="6" fill="#5977e3" transform="rotate(30 380 175)"/><ellipse cx="403" cy="181" rx="8" ry="9" fill="#b40426"/></g><g filter="url(#bz6)"><ellipse cx="400" cy="150" rx="8" ry="10" fill="#f7b89c"/></g><g filter="url(#bz3)"><ellipse cx="520" cy="172" rx="12" ry="10" fill="#4f69d9"/><ellipse cx="548" cy="172" rx="7" ry="8" fill="#b40426"/><ellipse cx="582" cy="170" rx="5" ry="5" fill="#d65244"/><ellipse cx="553" cy="150" rx="7" ry="5" fill="#5977e3"/><ellipse cx="602" cy="196" rx="5" ry="7" fill="#6f92f3"/><ellipse cx="100" cy="218" rx="4" ry="6" fill="#c0282f"/><ellipse cx="112" cy="218" rx="4" ry="6" fill="#4f69d9"/><ellipse cx="42" cy="290" rx="8" ry="7" fill="#b40426"/><ellipse cx="60" cy="292" rx="9" ry="8" fill="#4f69d9"/><ellipse cx="142" cy="293" rx="6" ry="6" fill="#c0282f"/><ellipse cx="155" cy="292" rx="6" ry="6" fill="#5977e3"/><ellipse cx="15" cy="322" rx="9" ry="8" fill="#4f69d9"/><ellipse cx="45" cy="315" rx="8" ry="6" fill="#6f92f3"/><ellipse cx="30" cy="322" rx="4" ry="4" fill="#e7745b"/><ellipse cx="252" cy="328" rx="6" ry="6" fill="#c0282f"/><ellipse cx="268" cy="323" rx="6" ry="6" fill="#5977e3"/></g><g filter="url(#bz6)"><ellipse cx="12" cy="180" rx="5" ry="7" fill="#f29274"/></g></g></g>
</g></g>
<path d="M28.9 13.5h146.5M28.9 104.4h146.5" stroke="#222" stroke-width="0.4"/>
<path d="M29.1 104.4v1.6M49.39 104.4v1.6M69.68 104.4v1.6M89.97 104.4v1.6M110.27 104.4v1.6M130.56 104.4v1.6M150.85 104.4v1.6M171.14 104.4v1.6M29.1 99.35h-1.6M29.1 89.25h-1.6M29.1 79.15h-1.6M29.1 69.05h-1.6M29.1 58.95h-1.6M29.1 48.85h-1.6M29.1 38.75h-1.6M29.1 28.65h-1.6M29.1 18.55h-1.6" stroke="#222" stroke-width="0.5"/>
<text transform="translate(29.1 109) scale(0.1)" font-size="33.5" text-anchor="middle">0</text>
<text transform="translate(49.39 109) scale(0.1)" font-size="33.5" text-anchor="middle">50</text>
<text transform="translate(69.68 109) scale(0.1)" font-size="33.5" text-anchor="middle">100</text>
<text transform="translate(89.97 109) scale(0.1)" font-size="33.5" text-anchor="middle">150</text>
<text transform="translate(110.27 109) scale(0.1)" font-size="33.5" text-anchor="middle">200</text>
<text transform="translate(130.56 109) scale(0.1)" font-size="33.5" text-anchor="middle">250</text>
<text transform="translate(150.85 109) scale(0.1)" font-size="33.5" text-anchor="middle">300</text>
<text transform="translate(171.14 109) scale(0.1)" font-size="33.5" text-anchor="middle">350</text>
<text transform="translate(27 100.5) scale(0.1)" font-size="33.5" text-anchor="end">−80</text>
<text transform="translate(27 90.4) scale(0.1)" font-size="33.5" text-anchor="end">−60</text>
<text transform="translate(27 80.3) scale(0.1)" font-size="33.5" text-anchor="end">−40</text>
<text transform="translate(27 70.2) scale(0.1)" font-size="33.5" text-anchor="end">−20</text>
<text transform="translate(27 60.1) scale(0.1)" font-size="33.5" text-anchor="end">0</text>
<text transform="translate(27 50) scale(0.1)" font-size="33.5" text-anchor="end">20</text>
<text transform="translate(27 39.9) scale(0.1)" font-size="33.5" text-anchor="end">40</text>
<text transform="translate(27 29.8) scale(0.1)" font-size="33.5" text-anchor="end">60</text>
<text transform="translate(27 19.7) scale(0.1)" font-size="33.5" text-anchor="end">80</text>
<text transform="translate(102.15 114.8) scale(0.1)" font-size="46" text-anchor="middle">Longitude</text>
<text transform="translate(18.4 58.95) rotate(-90) scale(0.1)" font-size="46" text-anchor="middle">Latitude</text>
<text transform="translate(102.15 12.4) scale(0.1)" font-size="46" text-anchor="middle">Real CR1935 MDI</text>
<rect x="184.3" y="13.5" width="4.7" height="90.9" fill="url(#cb)"/>
<path d="M184.3 13.5v90.9M189 13.5v90.9" stroke="#222" stroke-width="0.5"/>
<path d="M189 104.4h1.5M189 96.83h1.5M189 89.25h1.5M189 81.68h1.5M189 74.1h1.5M189 66.53h1.5M189 58.95h1.5M189 51.38h1.5M189 43.8h1.5M189 36.23h1.5M189 28.65h1.5M189 21.07h1.5M189 13.5h1.5" stroke="#222" stroke-width="0.5"/>
<text transform="translate(191.2 105.9) scale(0.1)" font-size="33.5">−30</text>
<text transform="translate(191.2 98.33) scale(0.1)" font-size="33.5">−25</text>
<text transform="translate(191.2 90.75) scale(0.1)" font-size="33.5">−20</text>
<text transform="translate(191.2 83.18) scale(0.1)" font-size="33.5">−15</text>
<text transform="translate(191.2 75.6) scale(0.1)" font-size="33.5">−10</text>
<text transform="translate(191.2 68.03) scale(0.1)" font-size="33.5">−5</text>
<text transform="translate(191.2 60.45) scale(0.1)" font-size="33.5">0</text>
<text transform="translate(191.2 52.88) scale(0.1)" font-size="33.5">5</text>
<text transform="translate(191.2 45.3) scale(0.1)" font-size="33.5">10</text>
<text transform="translate(191.2 37.73) scale(0.1)" font-size="33.5">15</text>
<text transform="translate(191.2 30.15) scale(0.1)" font-size="33.5">20</text>
<text transform="translate(191.2 22.57) scale(0.1)" font-size="33.5">25</text>
<text transform="translate(191.2 15) scale(0.1)" font-size="33.5">30</text>
<text transform="translate(201.9 58.95) rotate(-90) scale(0.1)" font-size="36" text-anchor="middle">B (G)</text>
<g clip-path="url(#c01)"><g transform="translate(234.5 13.5)">
<g transform="translate(-0.5 -0.5) scale(0.19241)"><rect width="764" height="478" fill="url(#g01)"/><g filter="url(#bz10)"><ellipse cx="30" cy="200" rx="35" ry="110" fill="#d4dbe6"/><ellipse cx="130" cy="210" rx="25" ry="60" fill="#d4dbe6"/><ellipse cx="440" cy="180" rx="110" ry="60" fill="#d4dbe6" transform="rotate(35 440 180)"/><ellipse cx="670" cy="155" rx="90" ry="45" fill="#d4dbe6"/><ellipse cx="380" cy="390" rx="300" ry="40" fill="#d4dbe6"/><ellipse cx="700" cy="330" rx="70" ry="30" fill="#d4dbe6"/><ellipse cx="250" cy="130" rx="120" ry="50" fill="#e9d5cb" transform="rotate(-30 250 130)"/><ellipse cx="560" cy="330" rx="150" ry="40" fill="#e9d5cb" transform="rotate(-20 560 330)"/><ellipse cx="350" cy="330" rx="60" ry="50" fill="#e5d8d1" transform="rotate(20 350 330)"/><ellipse cx="610" cy="240" rx="60" ry="40" fill="#e9d5cb"/><ellipse cx="60" cy="380" rx="60" ry="30" fill="#e9d5cb"/><ellipse cx="300" cy="80" rx="200" ry="20" fill="#e5d8d1"/></g><g filter="url(#bz4)"><ellipse cx="521" cy="126" rx="9" ry="18" fill="#81a4fb"/><ellipse cx="545" cy="129" rx="9" ry="19" fill="#f08b6e"/></g><g filter="url(#bz2_5)"><ellipse cx="48" cy="318" rx="8" ry="10" fill="#c0282f"/><ellipse cx="63" cy="318" rx="7" ry="9" fill="#445acc"/></g><g filter="url(#bz6)"><ellipse cx="97" cy="210" rx="3" ry="10" fill="#f7b89c"/><ellipse cx="380" cy="365" rx="8" ry="5" fill="#aac7fd"/></g></g>
</g></g>
<rect x="234.5" y="13.5" width="145.1" height="90.9" fill="none" stroke="#222" stroke-width="0.4"/>
<path d="M234.5 104.4v1.6M254.65 104.4v1.6M274.81 104.4v1.6M294.96 104.4v1.6M315.11 104.4v1.6M335.26 104.4v1.6M355.42 104.4v1.6M375.57 104.4v1.6M234.5 99.35h-1.6M234.5 89.25h-1.6M234.5 79.15h-1.6M234.5 69.05h-1.6M234.5 58.95h-1.6M234.5 48.85h-1.6M234.5 38.75h-1.6M234.5 28.65h-1.6M234.5 18.55h-1.6" stroke="#222" stroke-width="0.5"/>
<text transform="translate(234.5 109) scale(0.1)" font-size="33.5" text-anchor="middle">0</text>
<text transform="translate(254.65 109) scale(0.1)" font-size="33.5" text-anchor="middle">50</text>
<text transform="translate(274.81 109) scale(0.1)" font-size="33.5" text-anchor="middle">100</text>
<text transform="translate(294.96 109) scale(0.1)" font-size="33.5" text-anchor="middle">150</text>
<text transform="translate(315.11 109) scale(0.1)" font-size="33.5" text-anchor="middle">200</text>
<text transform="translate(335.26 109) scale(0.1)" font-size="33.5" text-anchor="middle">250</text>
<text transform="translate(355.42 109) scale(0.1)" font-size="33.5" text-anchor="middle">300</text>
<text transform="translate(375.57 109) scale(0.1)" font-size="33.5" text-anchor="middle">350</text>
<text transform="translate(232.4 100.5) scale(0.1)" font-size="33.5" text-anchor="end">−80</text>
<text transform="translate(232.4 90.4) scale(0.1)" font-size="33.5" text-anchor="end">−60</text>
<text transform="translate(232.4 80.3) scale(0.1)" font-size="33.5" text-anchor="end">−40</text>
<text transform="translate(232.4 70.2) scale(0.1)" font-size="33.5" text-anchor="end">−20</text>
<text transform="translate(232.4 60.1) scale(0.1)" font-size="33.5" text-anchor="end">0</text>
<text transform="translate(232.4 50) scale(0.1)" font-size="33.5" text-anchor="end">20</text>
<text transform="translate(232.4 39.9) scale(0.1)" font-size="33.5" text-anchor="end">40</text>
<text transform="translate(232.4 29.8) scale(0.1)" font-size="33.5" text-anchor="end">60</text>
<text transform="translate(232.4 19.7) scale(0.1)" font-size="33.5" text-anchor="end">80</text>
<text transform="translate(307.05 114.8) scale(0.1)" font-size="46" text-anchor="middle">Longitude</text>
<text transform="translate(223.8 58.95) rotate(-90) scale(0.1)" font-size="46" text-anchor="middle">Latitude</text>
<text transform="translate(307.05 12.4) scale(0.1)" font-size="46" text-anchor="middle">Synthetic CR1935</text>
<rect x="388.8" y="13.5" width="4.7" height="90.9" fill="url(#cb)"/>
<path d="M388.8 13.5v90.9M393.5 13.5v90.9" stroke="#222" stroke-width="0.5"/>
<path d="M393.5 104.4h1.5M393.5 96.83h1.5M393.5 89.25h1.5M393.5 81.68h1.5M393.5 74.1h1.5M393.5 66.53h1.5M393.5 58.95h1.5M393.5 51.38h1.5M393.5 43.8h1.5M393.5 36.23h1.5M393.5 28.65h1.5M393.5 21.07h1.5M393.5 13.5h1.5" stroke="#222" stroke-width="0.5"/>
<text transform="translate(395.7 105.9) scale(0.1)" font-size="33.5">−30</text>
<text transform="translate(395.7 98.33) scale(0.1)" font-size="33.5">−25</text>
<text transform="translate(395.7 90.75) scale(0.1)" font-size="33.5">−20</text>
<text transform="translate(395.7 83.18) scale(0.1)" font-size="33.5">−15</text>
<text transform="translate(395.7 75.6) scale(0.1)" font-size="33.5">−10</text>
<text transform="translate(395.7 68.03) scale(0.1)" font-size="33.5">−5</text>
<text transform="translate(395.7 60.45) scale(0.1)" font-size="33.5">0</text>
<text transform="translate(395.7 52.88) scale(0.1)" font-size="33.5">5</text>
<text transform="translate(395.7 45.3) scale(0.1)" font-size="33.5">10</text>
<text transform="translate(395.7 37.73) scale(0.1)" font-size="33.5">15</text>
<text transform="translate(395.7 30.15) scale(0.1)" font-size="33.5">20</text>
<text transform="translate(395.7 22.57) scale(0.1)" font-size="33.5">25</text>
<text transform="translate(395.7 15) scale(0.1)" font-size="33.5">30</text>
<text transform="translate(406.4 58.95) rotate(-90) scale(0.1)" font-size="36" text-anchor="middle">B (G)</text>
<g clip-path="url(#c02)"><g transform="translate(441.5 13.5)">
<g transform="translate(-0.5 -0.5) scale(0.19241)"><rect width="764" height="478" fill="url(#g02)"/><g mask="url(#k02_0)"><rect y="30" width="764" height="425" filter="url(#m02_0)"/></g><g filter="url(#d02)"><g filter="url(#bz3)"><ellipse cx="500" cy="316" rx="10" ry="10" fill="#4f69d9"/><ellipse cx="522" cy="303" rx="9" ry="7" fill="#c0282f"/></g><g filter="url(#bz6)"><ellipse cx="525" cy="290" rx="5" ry="6" fill="#f29274"/><ellipse cx="370" cy="172" rx="12" ry="8" fill="#f7b89c"/><ellipse cx="555" cy="150" rx="12" ry="6" fill="#f5c1a9"/><ellipse cx="600" cy="160" rx="12" ry="8" fill="#b5cdfa"/><ellipse cx="20" cy="50" rx="30" ry="8" fill="#b5cdfa"/><ellipse cx="700" cy="40" rx="40" ry="8" fill="#b5cdfa"/><ellipse cx="230" cy="95" rx="20" ry="5" fill="#f2cbb7"/><ellipse cx="330" cy="120" rx="20" ry="8" fill="#f2cbb7"/></g></g></g>
</g></g>
<rect x="441.5" y="13.5" width="146" height="90.9" fill="none" stroke="#222" stroke-width="0.4"/>
<path d="M441.5 104.4v1.6M461.78 104.4v1.6M482.06 104.4v1.6M502.33 104.4v1.6M522.61 104.4v1.6M542.89 104.4v1.6M563.17 104.4v1.6M583.44 104.4v1.6M441.5 99.35h-1.6M441.5 89.25h-1.6M441.5 79.15h-1.6M441.5 69.05h-1.6M441.5 58.95h-1.6M441.5 48.85h-1.6M441.5 38.75h-1.6M441.5 28.65h-1.6M441.5 18.55h-1.6" stroke="#222" stroke-width="0.5"/>
<text transform="translate(441.5 109) scale(0.1)" font-size="33.5" text-anchor="middle">0</text>
<text transform="translate(461.78 109) scale(0.1)" font-size="33.5" text-anchor="middle">50</text>
<text transform="translate(482.06 109) scale(0.1)" font-size="33.5" text-anchor="middle">100</text>
<text transform="translate(502.33 109) scale(0.1)" font-size="33.5" text-anchor="middle">150</text>
<text transform="translate(522.61 109) scale(0.1)" font-size="33.5" text-anchor="middle">200</text>
<text transform="translate(542.89 109) scale(0.1)" font-size="33.5" text-anchor="middle">250</text>
<text transform="translate(563.17 109) scale(0.1)" font-size="33.5" text-anchor="middle">300</text>
<text transform="translate(583.44 109) scale(0.1)" font-size="33.5" text-anchor="middle">350</text>
<text transform="translate(439.4 100.5) scale(0.1)" font-size="33.5" text-anchor="end">−80</text>
<text transform="translate(439.4 90.4) scale(0.1)" font-size="33.5" text-anchor="end">−60</text>
<text transform="translate(439.4 80.3) scale(0.1)" font-size="33.5" text-anchor="end">−40</text>
<text transform="translate(439.4 70.2) scale(0.1)" font-size="33.5" text-anchor="end">−20</text>
<text transform="translate(439.4 60.1) scale(0.1)" font-size="33.5" text-anchor="end">0</text>
<text transform="translate(439.4 50) scale(0.1)" font-size="33.5" text-anchor="end">20</text>
<text transform="translate(439.4 39.9) scale(0.1)" font-size="33.5" text-anchor="end">40</text>
<text transform="translate(439.4 29.8) scale(0.1)" font-size="33.5" text-anchor="end">60</text>
<text transform="translate(439.4 19.7) scale(0.1)" font-size="33.5" text-anchor="end">80</text>
<text transform="translate(514.5 114.8) scale(0.1)" font-size="46" text-anchor="middle">Longitude</text>
<text transform="translate(430.8 58.95) rotate(-90) scale(0.1)" font-size="46" text-anchor="middle">Latitude</text>
<text transform="translate(514.5 12.4) scale(0.1)" font-size="46" text-anchor="middle">Real CR2096 GONG</text>
<rect x="596.1" y="13.5" width="4.7" height="90.9" fill="url(#cb)"/>
<path d="M596.1 13.5v90.9M600.8 13.5v90.9" stroke="#222" stroke-width="0.5"/>
<path d="M600.8 104.4h1.5M600.8 96.83h1.5M600.8 89.25h1.5M600.8 81.68h1.5M600.8 74.1h1.5M600.8 66.53h1.5M600.8 58.95h1.5M600.8 51.38h1.5M600.8 43.8h1.5M600.8 36.23h1.5M600.8 28.65h1.5M600.8 21.07h1.5M600.8 13.5h1.5" stroke="#222" stroke-width="0.5"/>
<text transform="translate(603 105.9) scale(0.1)" font-size="33.5">−30</text>
<text transform="translate(603 98.33) scale(0.1)" font-size="33.5">−25</text>
<text transform="translate(603 90.75) scale(0.1)" font-size="33.5">−20</text>
<text transform="translate(603 83.18) scale(0.1)" font-size="33.5">−15</text>
<text transform="translate(603 75.6) scale(0.1)" font-size="33.5">−10</text>
<text transform="translate(603 68.03) scale(0.1)" font-size="33.5">−5</text>
<text transform="translate(603 60.45) scale(0.1)" font-size="33.5">0</text>
<text transform="translate(603 52.88) scale(0.1)" font-size="33.5">5</text>
<text transform="translate(603 45.3) scale(0.1)" font-size="33.5">10</text>
<text transform="translate(603 37.73) scale(0.1)" font-size="33.5">15</text>
<text transform="translate(603 30.15) scale(0.1)" font-size="33.5">20</text>
<text transform="translate(603 22.57) scale(0.1)" font-size="33.5">25</text>
<text transform="translate(603 15) scale(0.1)" font-size="33.5">30</text>
<text transform="translate(613.7 58.95) rotate(-90) scale(0.1)" font-size="36" text-anchor="middle">B (G)</text>
<g clip-path="url(#c03)"><g transform="translate(646.2 13.5)">
<g transform="translate(-0.2 -0.5) scale(0.19241)"><rect width="764" height="478" fill="url(#g03)"/><g filter="url(#bz4)"><ellipse cx="400" cy="160" rx="10" ry="30" fill="#f5c1a9" transform="rotate(-20 400 160)"/><ellipse cx="430" cy="160" rx="8" ry="26" fill="#b5cdfa" transform="rotate(-20 430 160)"/><ellipse cx="598" cy="128" rx="8" ry="20" fill="#f7b89c" transform="rotate(-20 598 128)"/><ellipse cx="625" cy="135" rx="7" ry="18" fill="#aac7fd" transform="rotate(-20 625 135)"/></g><g filter="url(#bz3)"><ellipse cx="522" cy="338" rx="6" ry="5" fill="#c53334"/><ellipse cx="517" cy="346" rx="7" ry="4" fill="#445acc"/></g></g>
</g></g>
<path d="M646 13.5h146.5M646 104.4h146.5" stroke="#222" stroke-width="0.4"/>
<path d="M646.2 104.4v1.6M666.49 104.4v1.6M686.78 104.4v1.6M707.08 104.4v1.6M727.37 104.4v1.6M747.66 104.4v1.6M767.95 104.4v1.6M788.24 104.4v1.6M646.2 99.35h-1.6M646.2 89.25h-1.6M646.2 79.15h-1.6M646.2 69.05h-1.6M646.2 58.95h-1.6M646.2 48.85h-1.6M646.2 38.75h-1.6M646.2 28.65h-1.6M646.2 18.55h-1.6" stroke="#222" stroke-width="0.5"/>
<text transform="translate(646.2 109) scale(0.1)" font-size="33.5" text-anchor="middle">0</text>
<text transform="translate(666.49 109) scale(0.1)" font-size="33.5" text-anchor="middle">50</text>
<text transform="translate(686.78 109) scale(0.1)" font-size="33.5" text-anchor="middle">100</text>
<text transform="translate(707.08 109) scale(0.1)" font-size="33.5" text-anchor="middle">150</text>
<text transform="translate(727.37 109) scale(0.1)" font-size="33.5" text-anchor="middle">200</text>
<text transform="translate(747.66 109) scale(0.1)" font-size="33.5" text-anchor="middle">250</text>
<text transform="translate(767.95 109) scale(0.1)" font-size="33.5" text-anchor="middle">300</text>
<text transform="translate(788.24 109) scale(0.1)" font-size="33.5" text-anchor="middle">350</text>
<text transform="translate(644.1 100.5) scale(0.1)" font-size="33.5" text-anchor="end">−80</text>
<text transform="translate(644.1 90.4) scale(0.1)" font-size="33.5" text-anchor="end">−60</text>
<text transform="translate(644.1 80.3) scale(0.1)" font-size="33.5" text-anchor="end">−40</text>
<text transform="translate(644.1 70.2) scale(0.1)" font-size="33.5" text-anchor="end">−20</text>
<text transform="translate(644.1 60.1) scale(0.1)" font-size="33.5" text-anchor="end">0</text>
<text transform="translate(644.1 50) scale(0.1)" font-size="33.5" text-anchor="end">20</text>
<text transform="translate(644.1 39.9) scale(0.1)" font-size="33.5" text-anchor="end">40</text>
<text transform="translate(644.1 29.8) scale(0.1)" font-size="33.5" text-anchor="end">60</text>
<text transform="translate(644.1 19.7) scale(0.1)" font-size="33.5" text-anchor="end">80</text>
<text transform="translate(719.25 114.8) scale(0.1)" font-size="46" text-anchor="middle">Longitude</text>
<text transform="translate(635.5 58.95) rotate(-90) scale(0.1)" font-size="46" text-anchor="middle">Latitude</text>
<text transform="translate(719.25 12.4) scale(0.1)" font-size="46" text-anchor="middle">Synthetic CR2096</text>
<rect x="801.1" y="13.5" width="4.7" height="90.9" fill="url(#cb)"/>
<path d="M801.1 13.5v90.9M805.8 13.5v90.9" stroke="#222" stroke-width="0.5"/>
<path d="M805.8 104.4h1.5M805.8 96.83h1.5M805.8 89.25h1.5M805.8 81.68h1.5M805.8 74.1h1.5M805.8 66.53h1.5M805.8 58.95h1.5M805.8 51.38h1.5M805.8 43.8h1.5M805.8 36.23h1.5M805.8 28.65h1.5M805.8 21.07h1.5M805.8 13.5h1.5" stroke="#222" stroke-width="0.5"/>
<text transform="translate(808 105.9) scale(0.1)" font-size="33.5">−30</text>
<text transform="translate(808 98.33) scale(0.1)" font-size="33.5">−25</text>
<text transform="translate(808 90.75) scale(0.1)" font-size="33.5">−20</text>
<text transform="translate(808 83.18) scale(0.1)" font-size="33.5">−15</text>
<text transform="translate(808 75.6) scale(0.1)" font-size="33.5">−10</text>
<text transform="translate(808 68.03) scale(0.1)" font-size="33.5">−5</text>
<text transform="translate(808 60.45) scale(0.1)" font-size="33.5">0</text>
<text transform="translate(808 52.88) scale(0.1)" font-size="33.5">5</text>
<text transform="translate(808 45.3) scale(0.1)" font-size="33.5">10</text>
<text transform="translate(808 37.73) scale(0.1)" font-size="33.5">15</text>
<text transform="translate(808 30.15) scale(0.1)" font-size="33.5">20</text>
<text transform="translate(808 22.57) scale(0.1)" font-size="33.5">25</text>
<text transform="translate(808 15) scale(0.1)" font-size="33.5">30</text>
<text transform="translate(818.7 58.95) rotate(-90) scale(0.1)" font-size="36" text-anchor="middle">B (G)</text>
<g clip-path="url(#c10)"><g transform="translate(29.1 131.5)">
<g transform="translate(-0.1 -0.5) scale(0.19241)"><rect width="764" height="478" fill="url(#g10)"/><rect y="10" width="764" height="140" filter="url(#t10_0)"/><rect y="150" width="764" height="180" filter="url(#t10_1)"/><rect y="330" width="764" height="132" filter="url(#t10_2)"/><g filter="url(#d10)"><g filter="url(#bz2_5)"><ellipse cx="75" cy="45" rx="6" ry="4" fill="#445acc"/><ellipse cx="160" cy="45" rx="6" ry="4" fill="#445acc"/><ellipse cx="295" cy="48" rx="6" ry="4" fill="#445acc"/><ellipse cx="400" cy="45" rx="6" ry="4" fill="#445acc"/><ellipse cx="20" cy="45" rx="5" ry="4" fill="#4f69d9"/><ellipse cx="100" cy="28" rx="8" ry="4" fill="#cc403a"/><ellipse cx="540" cy="35" rx="10" ry="4" fill="#d65244"/><ellipse cx="700" cy="30" rx="8" ry="4" fill="#e0654f"/><ellipse cx="35" cy="458" rx="20" ry="5" fill="#4f69d9"/><ellipse cx="540" cy="465" rx="15" ry="5" fill="#4f69d9"/><ellipse cx="380" cy="460" rx="20" ry="5" fill="#e0654f"/><ellipse cx="660" cy="462" rx="30" ry="5" fill="#d65244"/><ellipse cx="300" cy="455" rx="15" ry="4" fill="#6f92f3"/><ellipse cx="120" cy="455" rx="12" ry="4" fill="#ee8468"/><ellipse cx="46" cy="205" rx="24" ry="33" fill="#ee8468"/><ellipse cx="49" cy="286" rx="26" ry="20" fill="#ee8468"/><ellipse cx="168" cy="296" rx="22" ry="27" fill="#ee8468"/><ellipse cx="240" cy="252" rx="38" ry="22" fill="#ee8468"/><ellipse cx="362" cy="198" rx="28" ry="30" fill="#ee8468"/><ellipse cx="458" cy="188" rx="26" ry="30" fill="#ee8468"/><ellipse cx="499" cy="198" rx="26" ry="22" fill="#ee8468"/><ellipse cx="722" cy="198" rx="35" ry="30" fill="#ee8468"/><ellipse cx="433" cy="281" rx="26" ry="22" fill="#ee8468"/><ellipse cx="585" cy="266" rx="26" ry="18" fill="#ee8468"/><ellipse cx="678" cy="262" rx="22" ry="20" fill="#ee8468"/><ellipse cx="717" cy="286" rx="22" ry="26" fill="#ee8468"/><ellipse cx="303" cy="271" rx="18" ry="16" fill="#ee8468"/><ellipse cx="156" cy="210" rx="15" ry="14" fill="#ee8468"/><ellipse cx="575" cy="335" rx="15" ry="7" fill="#e7745b"/><ellipse cx="683" cy="320" rx="12" ry="6" fill="#e7745b"/><ellipse cx="560" cy="296" rx="6" ry="6" fill="#e0654f"/></g><g filter="url(#bz6)"><ellipse cx="120" cy="245" rx="20" ry="10" fill="#f29274"/><ellipse cx="600" cy="210" rx="18" ry="10" fill="#f29274"/></g><g filter="url(#bz2_5)"><ellipse cx="300" cy="306" rx="28" ry="19" fill="#6485ec"/><ellipse cx="653" cy="200" rx="30" ry="22" fill="#6485ec"/><ellipse cx="477" cy="286" rx="27" ry="27" fill="#6485ec"/><ellipse cx="264" cy="228" rx="22" ry="19" fill="#6485ec"/><ellipse cx="742" cy="272" rx="24" ry="28" fill="#6485ec"/><ellipse cx="409" cy="183" rx="27" ry="28" fill="#6485ec"/><ellipse cx="46.5" cy="205.5" rx="17" ry="27" fill="#b40426"/><ellipse cx="19.6" cy="193" rx="6" ry="7" fill="#b40426"/><ellipse cx="49" cy="169" rx="10" ry="7" fill="#c0282f"/><ellipse cx="156.6" cy="210.3" rx="11" ry="10" fill="#b40426"/><ellipse cx="188.4" cy="215.2" rx="7" ry="9" fill="#b40426"/><ellipse cx="239.8" cy="252" rx="32" ry="17" fill="#b40426"/><ellipse cx="254.5" cy="183.4" rx="10" ry="7" fill="#c0282f"/><ellipse cx="303.4" cy="271.5" rx="14" ry="12" fill="#b40426"/><ellipse cx="362" cy="198" rx="22" ry="24" fill="#b40426"/><ellipse cx="168.8" cy="296" rx="17" ry="22" fill="#b40426"/><ellipse cx="49" cy="286" rx="20" ry="15" fill="#b40426"/><ellipse cx="95.4" cy="286" rx="7" ry="14" fill="#b40426"/><ellipse cx="230" cy="222.6" rx="10" ry="7" fill="#c0282f"/><ellipse cx="372" cy="256.8" rx="10" ry="10" fill="#b40426"/><ellipse cx="457.7" cy="188.3" rx="20" ry="24" fill="#b40426"/><ellipse cx="499.3" cy="198.1" rx="20" ry="17" fill="#b40426"/><ellipse cx="572.7" cy="198.1" rx="7" ry="6" fill="#b40426"/><ellipse cx="590.8" cy="222.6" rx="5" ry="6" fill="#b40426"/><ellipse cx="646.1" cy="227.5" rx="11" ry="12" fill="#b40426"/><ellipse cx="722" cy="198.1" rx="29" ry="24" fill="#b40426"/><ellipse cx="384.3" cy="256.8" rx="10" ry="15" fill="#b40426"/><ellipse cx="433.2" cy="281.3" rx="20" ry="17" fill="#b40426"/><ellipse cx="455.3" cy="318" rx="15" ry="12" fill="#b40426"/><ellipse cx="506.6" cy="291.1" rx="6" ry="12" fill="#b40426"/><ellipse cx="584.9" cy="266.6" rx="20" ry="12" fill="#b40426"/><ellipse cx="677.9" cy="261.7" rx="17" ry="15" fill="#b40426"/><ellipse cx="717.1" cy="286.2" rx="17" ry="20" fill="#b40426"/><ellipse cx="658.4" cy="276.4" rx="10" ry="10" fill="#b40426"/><ellipse cx="748.9" cy="305.8" rx="8" ry="10" fill="#b40426"/><ellipse cx="560.5" cy="296" rx="5" ry="5" fill="#c0282f"/><ellipse cx="17.1" cy="212.8" rx="12" ry="22" fill="#3b4cc0"/><ellipse cx="95.4" cy="203" rx="7" ry="7" fill="#3b4cc0"/><ellipse cx="137" cy="207.9" rx="9" ry="12" fill="#3b4cc0"/><ellipse cx="200.7" cy="183.4" rx="11" ry="10" fill="#3b4cc0"/><ellipse cx="264.3" cy="227.5" rx="17" ry="15" fill="#3b4cc0"/><ellipse cx="293.6" cy="242.2" rx="12" ry="10" fill="#3b4cc0"/><ellipse cx="313.2" cy="188.3" rx="22" ry="15" fill="#3b4cc0"/><ellipse cx="352.4" cy="256.8" rx="15" ry="22" fill="#3b4cc0"/><ellipse cx="73.4" cy="291.1" rx="11" ry="17" fill="#3b4cc0"/><ellipse cx="132.1" cy="281.3" rx="12" ry="12" fill="#3b4cc0"/><ellipse cx="195.8" cy="286.2" rx="9" ry="10" fill="#3b4cc0"/><ellipse cx="298.5" cy="305.8" rx="22" ry="15" fill="#3b4cc0"/><ellipse cx="357.3" cy="286.2" rx="10" ry="7" fill="#3b4cc0"/><ellipse cx="44" cy="320.5" rx="17" ry="7" fill="#445acc"/><ellipse cx="117.5" cy="237.3" rx="7" ry="5" fill="#445acc"/><ellipse cx="408.8" cy="183.4" rx="22" ry="24" fill="#3b4cc0"/><ellipse cx="484.6" cy="181" rx="7" ry="10" fill="#3b4cc0"/><ellipse cx="555.6" cy="195.7" rx="6" ry="6" fill="#3b4cc0"/><ellipse cx="653.5" cy="193.2" rx="25" ry="12" fill="#3b4cc0"/><ellipse cx="619.2" cy="237.3" rx="12" ry="20" fill="#3b4cc0"/><ellipse cx="633.9" cy="261.7" rx="12" ry="10" fill="#3b4cc0"/><ellipse cx="746.5" cy="193.2" rx="6" ry="8" fill="#3b4cc0"/><ellipse cx="401.4" cy="252" rx="17" ry="12" fill="#3b4cc0"/><ellipse cx="477.3" cy="286.2" rx="20" ry="20" fill="#3b4cc0"/><ellipse cx="526.2" cy="232.4" rx="5" ry="5" fill="#445acc"/><ellipse cx="575.2" cy="296" rx="5" ry="5" fill="#445acc"/><ellipse cx="629" cy="271.5" rx="12" ry="12" fill="#3b4cc0"/><ellipse cx="741.6" cy="271.5" rx="18" ry="22" fill="#3b4cc0"/><ellipse cx="594.7" cy="168.8" rx="12" ry="8" fill="#445acc"/><ellipse cx="697.5" cy="330.2" rx="8" ry="6" fill="#445acc"/></g></g></g>
</g></g>
<path d="M28.9 131.5h146.5M28.9 221.6h146.5" stroke="#222" stroke-width="0.4"/>
<path d="M29.1 221.6v1.6M49.39 221.6v1.6M69.68 221.6v1.6M89.97 221.6v1.6M110.27 221.6v1.6M130.56 221.6v1.6M150.85 221.6v1.6M171.14 221.6v1.6M29.1 216.59h-1.6M29.1 206.58h-1.6M29.1 196.57h-1.6M29.1 186.56h-1.6M29.1 176.55h-1.6M29.1 166.54h-1.6M29.1 156.53h-1.6M29.1 146.52h-1.6M29.1 136.51h-1.6" stroke="#222" stroke-width="0.5"/>
<text transform="translate(29.1 226.2) scale(0.1)" font-size="33.5" text-anchor="middle">0</text>
<text transform="translate(49.39 226.2) scale(0.1)" font-size="33.5" text-anchor="middle">50</text>
<text transform="translate(69.68 226.2) scale(0.1)" font-size="33.5" text-anchor="middle">100</text>
<text transform="translate(89.97 226.2) scale(0.1)" font-size="33.5" text-anchor="middle">150</text>
<text transform="translate(110.27 226.2) scale(0.1)" font-size="33.5" text-anchor="middle">200</text>
<text transform="translate(130.56 226.2) scale(0.1)" font-size="33.5" text-anchor="middle">250</text>
<text transform="translate(150.85 226.2) scale(0.1)" font-size="33.5" text-anchor="middle">300</text>
<text transform="translate(171.14 226.2) scale(0.1)" font-size="33.5" text-anchor="middle">350</text>
<text transform="translate(27 217.74) scale(0.1)" font-size="33.5" text-anchor="end">−80</text>
<text transform="translate(27 207.73) scale(0.1)" font-size="33.5" text-anchor="end">−60</text>
<text transform="translate(27 197.72) scale(0.1)" font-size="33.5" text-anchor="end">−40</text>
<text transform="translate(27 187.71) scale(0.1)" font-size="33.5" text-anchor="end">−20</text>
<text transform="translate(27 177.7) scale(0.1)" font-size="33.5" text-anchor="end">0</text>
<text transform="translate(27 167.69) scale(0.1)" font-size="33.5" text-anchor="end">20</text>
<text transform="translate(27 157.68) scale(0.1)" font-size="33.5" text-anchor="end">40</text>
<text transform="translate(27 147.67) scale(0.1)" font-size="33.5" text-anchor="end">60</text>
<text transform="translate(27 137.66) scale(0.1)" font-size="33.5" text-anchor="end">80</text>
<text transform="translate(102.15 232) scale(0.1)" font-size="46" text-anchor="middle">Longitude</text>
<text transform="translate(18.4 176.55) rotate(-90) scale(0.1)" font-size="46" text-anchor="middle">Latitude</text>
<text transform="translate(102.15 130.4) scale(0.1)" font-size="46" text-anchor="middle">Real CR1969 MDI</text>
<rect x="184.3" y="131.5" width="4.7" height="90.1" fill="url(#cb)"/>
<path d="M184.3 131.5v90.1M189 131.5v90.1" stroke="#222" stroke-width="0.5"/>
<path d="M189 221.6h1.5M189 214.09h1.5M189 206.58h1.5M189 199.07h1.5M189 191.57h1.5M189 184.06h1.5M189 176.55h1.5M189 169.04h1.5M189 161.53h1.5M189 154.03h1.5M189 146.52h1.5M189 139.01h1.5M189 131.5h1.5" stroke="#222" stroke-width="0.5"/>
<text transform="translate(191.2 223.1) scale(0.1)" font-size="33.5">−30</text>
<text transform="translate(191.2 215.59) scale(0.1)" font-size="33.5">−25</text>
<text transform="translate(191.2 208.08) scale(0.1)" font-size="33.5">−20</text>
<text transform="translate(191.2 200.57) scale(0.1)" font-size="33.5">−15</text>
<text transform="translate(191.2 193.07) scale(0.1)" font-size="33.5">−10</text>
<text transform="translate(191.2 185.56) scale(0.1)" font-size="33.5">−5</text>
<text transform="translate(191.2 178.05) scale(0.1)" font-size="33.5">0</text>
<text transform="translate(191.2 170.54) scale(0.1)" font-size="33.5">5</text>
<text transform="translate(191.2 163.03) scale(0.1)" font-size="33.5">10</text>
<text transform="translate(191.2 155.53) scale(0.1)" font-size="33.5">15</text>
<text transform="translate(191.2 148.02) scale(0.1)" font-size="33.5">20</text>
<text transform="translate(191.2 140.51) scale(0.1)" font-size="33.5">25</text>
<text transform="translate(191.2 133) scale(0.1)" font-size="33.5">30</text>
<text transform="translate(201.9 176.55) rotate(-90) scale(0.1)" font-size="36" text-anchor="middle">B (G)</text>
<g clip-path="url(#c11)"><g transform="translate(234.5 131.5)">
<g transform="translate(-0.5 -0.5) scale(0.19241)"><rect width="764" height="478" fill="url(#g11)"/><g filter="url(#bz10)"><ellipse cx="300" cy="70" rx="220" ry="16" fill="#edd2c3" transform="rotate(2 300 70)"/></g><g filter="url(#bz8)"><ellipse cx="651" cy="372" rx="122" ry="15" fill="#f2cbb7" transform="rotate(-10 651 372)"/></g><g filter="url(#bz10)"><ellipse cx="380" cy="410" rx="380" ry="18" fill="#edd2c3"/></g><g filter="url(#bz6)"><ellipse cx="618.7" cy="103.8" rx="98" ry="15" fill="#aac7fd" transform="rotate(20 618.7 103.8)"/></g><g filter="url(#bz8)"><ellipse cx="163" cy="267" rx="32" ry="24" fill="#f5c1a9"/></g><g filter="url(#bz6)"><ellipse cx="32.6" cy="348.3" rx="45" ry="15" fill="#f7ac8e" transform="rotate(-10 32.6 348.3)"/><ellipse cx="140" cy="369.8" rx="100" ry="14" fill="#93b5fe" transform="rotate(-10 140 369.8)"/></g><g filter="url(#bz5)"><ellipse cx="284.7" cy="239" rx="15" ry="25" fill="#7b9ff9"/></g><g filter="url(#bz6)"><ellipse cx="71.2" cy="321.6" rx="60" ry="15" fill="#f7ac8e" transform="rotate(-30 71.2 321.6)"/></g><g filter="url(#bz5)"><ellipse cx="209" cy="300.9" rx="12" ry="25" fill="#7b9ff9"/></g><g filter="url(#bz10)"><ellipse cx="49" cy="177" rx="50" ry="50" fill="#f7b89c"/></g><g filter="url(#bz8)"><ellipse cx="545.3" cy="160.9" rx="65" ry="40" fill="#f5a081"/><ellipse cx="716.5" cy="291.3" rx="33" ry="57" fill="#f7ac8e"/></g><g filter="url(#bz6)"><ellipse cx="724.6" cy="193.5" rx="24" ry="40" fill="#f5a081"/><ellipse cx="565.7" cy="275" rx="37" ry="53" fill="#aac7fd"/></g><g filter="url(#bz5)"><ellipse cx="565.7" cy="275" rx="18" ry="28" fill="#8db0fe"/></g><g filter="url(#bz6)"><ellipse cx="326" cy="250.5" rx="20" ry="73" fill="#f5a081" transform="rotate(40 326 250.5)"/></g><g filter="url(#bz5)"><ellipse cx="106" cy="307.6" rx="16" ry="37" fill="#f5a081" transform="rotate(30 106 307.6)"/><ellipse cx="220" cy="193.5" rx="15" ry="32" fill="#f5a081" transform="rotate(-20 220 193.5)"/><ellipse cx="122" cy="193.5" rx="10" ry="25" fill="#aac7fd"/><ellipse cx="406.8" cy="258.7" rx="28" ry="73" fill="#6f92f3" transform="rotate(30 406.8 258.7)"/><ellipse cx="358.6" cy="315.7" rx="33" ry="16" fill="#6f92f3" transform="rotate(-35 358.6 315.7)"/></g><g filter="url(#bz4)"><ellipse cx="175" cy="181.3" rx="8" ry="28" fill="#6f92f3" transform="rotate(-20 175 181.3)"/></g><g filter="url(#bz5)"><ellipse cx="655.3" cy="291.3" rx="12" ry="30" fill="#7b9ff9"/></g><g filter="url(#bz4)"><ellipse cx="692" cy="136.4" rx="10" ry="10" fill="#9ebeff"/></g><g filter="url(#bz3)"><ellipse cx="122" cy="307.6" rx="8" ry="16" fill="#e7745b" transform="rotate(30 122 307.6)"/><ellipse cx="350.4" cy="262.7" rx="8" ry="12" fill="#e0654f"/><ellipse cx="578" cy="173" rx="12" ry="15" fill="#e0654f"/></g><g filter="url(#bz4)"><ellipse cx="618.7" cy="295.4" rx="12" ry="28" fill="#e7745b"/></g><g filter="url(#bz3)"><ellipse cx="728.7" cy="189.4" rx="12" ry="18" fill="#e0654f"/></g><g filter="url(#bz6)"><ellipse cx="40.7" cy="193.5" rx="44.8" ry="44.8" fill="#f4987a"/><ellipse cx="60" cy="205" rx="24" ry="19.2" fill="#f4987a"/><ellipse cx="264.8" cy="254.6" rx="32" ry="38.4" fill="#f4987a"/><ellipse cx="236.3" cy="260.3" rx="11.2" ry="25.6" fill="#f4987a"/><ellipse cx="317.8" cy="299.4" rx="25.6" ry="28.8" fill="#f4987a"/><ellipse cx="53" cy="323.9" rx="24" ry="28.8" fill="#f4987a"/><ellipse cx="171" cy="328" rx="19.2" ry="36.8" fill="#f4987a"/><ellipse cx="455.7" cy="152.7" rx="24" ry="28.8" fill="#f4987a"/><ellipse cx="508.7" cy="165" rx="24" ry="36.8" fill="#f4987a"/><ellipse cx="439.4" cy="307.6" rx="19.2" ry="38.4" fill="#f4987a"/><ellipse cx="455.7" cy="354.8" rx="16" ry="17.6" fill="#f4987a"/><ellipse cx="726.2" cy="307.6" rx="24" ry="44.8" fill="#f4987a"/><ellipse cx="8" cy="197.6" rx="12.8" ry="32" fill="#8db0fe"/><ellipse cx="301.5" cy="242.4" rx="19.2" ry="38.4" fill="#8db0fe"/><ellipse cx="338.2" cy="152.7" rx="19.2" ry="44.8" fill="#8db0fe" transform="rotate(-20 338.2 152.7)"/><ellipse cx="77.4" cy="328" rx="16" ry="16" fill="#8db0fe"/><ellipse cx="150.8" cy="307.6" rx="19.2" ry="44.8" fill="#8db0fe" transform="rotate(20 150.8 307.6)"/><ellipse cx="203.7" cy="319.8" rx="32" ry="25.6" fill="#8db0fe"/><ellipse cx="419" cy="143" rx="25.6" ry="28.8" fill="#8db0fe"/><ellipse cx="484.2" cy="148.7" rx="12.8" ry="16" fill="#8db0fe"/><ellipse cx="400" cy="270" rx="22.4" ry="64" fill="#8db0fe" transform="rotate(30 400 270)"/><ellipse cx="468" cy="303.5" rx="28.8" ry="48" fill="#8db0fe"/><ellipse cx="480.1" cy="348.3" rx="12.8" ry="22.4" fill="#8db0fe"/><ellipse cx="655.3" cy="201.6" rx="20.8" ry="72" fill="#8db0fe"/><ellipse cx="757" cy="307.6" rx="12.8" ry="32" fill="#8db0fe"/></g><g filter="url(#bz4)"><ellipse cx="40.7" cy="193.5" rx="28" ry="28" fill="#b40426"/><ellipse cx="60" cy="205" rx="15" ry="12" fill="#c0282f"/><ellipse cx="264.8" cy="254.6" rx="20" ry="24" fill="#b40426"/><ellipse cx="236.3" cy="260.3" rx="7" ry="16" fill="#c0282f"/><ellipse cx="317.8" cy="299.4" rx="16" ry="18" fill="#b40426"/><ellipse cx="53" cy="323.9" rx="15" ry="18" fill="#b40426"/><ellipse cx="171" cy="328" rx="12" ry="23" fill="#b40426"/><ellipse cx="455.7" cy="152.7" rx="15" ry="18" fill="#b40426"/><ellipse cx="508.7" cy="165" rx="15" ry="23" fill="#b40426"/><ellipse cx="439.4" cy="307.6" rx="12" ry="24" fill="#b40426"/><ellipse cx="455.7" cy="354.8" rx="10" ry="11" fill="#ba162b"/><ellipse cx="726.2" cy="307.6" rx="15" ry="28" fill="#b40426"/><ellipse cx="8" cy="197.6" rx="8" ry="20" fill="#3b4cc0"/><ellipse cx="301.5" cy="242.4" rx="12" ry="24" fill="#3f53c6"/><ellipse cx="338.2" cy="152.7" rx="12" ry="28" fill="#4f69d9" transform="rotate(-20 338.2 152.7)"/><ellipse cx="77.4" cy="328" rx="10" ry="10" fill="#3b4cc0"/><ellipse cx="150.8" cy="307.6" rx="12" ry="28" fill="#4961d2" transform="rotate(20 150.8 307.6)"/><ellipse cx="203.7" cy="319.8" rx="20" ry="16" fill="#3b4cc0"/><ellipse cx="419" cy="143" rx="16" ry="18" fill="#3b4cc0"/><ellipse cx="484.2" cy="148.7" rx="8" ry="10" fill="#445acc"/><ellipse cx="400" cy="270" rx="14" ry="40" fill="#4961d2" transform="rotate(30 400 270)"/><ellipse cx="468" cy="303.5" rx="18" ry="30" fill="#3f53c6"/><ellipse cx="480.1" cy="348.3" rx="8" ry="14" fill="#445acc"/><ellipse cx="655.3" cy="201.6" rx="13" ry="45" fill="#445acc"/><ellipse cx="757" cy="307.6" rx="8" ry="20" fill="#3b4cc0"/></g></g>
</g></g>
<rect x="234.5" y="131.5" width="145.1" height="90.1" fill="none" stroke="#222" stroke-width="0.4"/>
<path d="M234.5 221.6v1.6M254.65 221.6v1.6M274.81 221.6v1.6M294.96 221.6v1.6M315.11 221.6v1.6M335.26 221.6v1.6M355.42 221.6v1.6M375.57 221.6v1.6M234.5 216.59h-1.6M234.5 206.58h-1.6M234.5 196.57h-1.6M234.5 186.56h-1.6M234.5 176.55h-1.6M234.5 166.54h-1.6M234.5 156.53h-1.6M234.5 146.52h-1.6M234.5 136.51h-1.6" stroke="#222" stroke-width="0.5"/>
<text transform="translate(234.5 226.2) scale(0.1)" font-size="33.5" text-anchor="middle">0</text>
<text transform="translate(254.65 226.2) scale(0.1)" font-size="33.5" text-anchor="middle">50</text>
<text transform="translate(274.81 226.2) scale(0.1)" font-size="33.5" text-anchor="middle">100</text>
<text transform="translate(294.96 226.2) scale(0.1)" font-size="33.5" text-anchor="middle">150</text>
<text transform="translate(315.11 226.2) scale(0.1)" font-size="33.5" text-anchor="middle">200</text>
<text transform="translate(335.26 226.2) scale(0.1)" font-size="33.5" text-anchor="middle">250</text>
<text transform="translate(355.42 226.2) scale(0.1)" font-size="33.5" text-anchor="middle">300</text>
<text transform="translate(375.57 226.2) scale(0.1)" font-size="33.5" text-anchor="middle">350</text>
<text transform="translate(232.4 217.74) scale(0.1)" font-size="33.5" text-anchor="end">−80</text>
<text transform="translate(232.4 207.73) scale(0.1)" font-size="33.5" text-anchor="end">−60</text>
<text transform="translate(232.4 197.72) scale(0.1)" font-size="33.5" text-anchor="end">−40</text>
<text transform="translate(232.4 187.71) scale(0.1)" font-size="33.5" text-anchor="end">−20</text>
<text transform="translate(232.4 177.7) scale(0.1)" font-size="33.5" text-anchor="end">0</text>
<text transform="translate(232.4 167.69) scale(0.1)" font-size="33.5" text-anchor="end">20</text>
<text transform="translate(232.4 157.68) scale(0.1)" font-size="33.5" text-anchor="end">40</text>
<text transform="translate(232.4 147.67) scale(0.1)" font-size="33.5" text-anchor="end">60</text>
<text transform="translate(232.4 137.66) scale(0.1)" font-size="33.5" text-anchor="end">80</text>
<text transform="translate(307.05 232) scale(0.1)" font-size="46" text-anchor="middle">Longitude</text>
<text transform="translate(223.8 176.55) rotate(-90) scale(0.1)" font-size="46" text-anchor="middle">Latitude</text>
<text transform="translate(307.05 130.4) scale(0.1)" font-size="46" text-anchor="middle">Synthetic CR1969</text>
<rect x="388.8" y="131.5" width="4.7" height="90.1" fill="url(#cb)"/>
<path d="M388.8 131.5v90.1M393.5 131.5v90.1" stroke="#222" stroke-width="0.5"/>
<path d="M393.5 221.6h1.5M393.5 214.09h1.5M393.5 206.58h1.5M393.5 199.07h1.5M393.5 191.57h1.5M393.5 184.06h1.5M393.5 176.55h1.5M393.5 169.04h1.5M393.5 161.53h1.5M393.5 154.03h1.5M393.5 146.52h1.5M393.5 139.01h1.5M393.5 131.5h1.5" stroke="#222" stroke-width="0.5"/>
<text transform="translate(395.7 223.1) scale(0.1)" font-size="33.5">−30</text>
<text transform="translate(395.7 215.59) scale(0.1)" font-size="33.5">−25</text>
<text transform="translate(395.7 208.08) scale(0.1)" font-size="33.5">−20</text>
<text transform="translate(395.7 200.57) scale(0.1)" font-size="33.5">−15</text>
<text transform="translate(395.7 193.07) scale(0.1)" font-size="33.5">−10</text>
<text transform="translate(395.7 185.56) scale(0.1)" font-size="33.5">−5</text>
<text transform="translate(395.7 178.05) scale(0.1)" font-size="33.5">0</text>
<text transform="translate(395.7 170.54) scale(0.1)" font-size="33.5">5</text>
<text transform="translate(395.7 163.03) scale(0.1)" font-size="33.5">10</text>
<text transform="translate(395.7 155.53) scale(0.1)" font-size="33.5">15</text>
<text transform="translate(395.7 148.02) scale(0.1)" font-size="33.5">20</text>
<text transform="translate(395.7 140.51) scale(0.1)" font-size="33.5">25</text>
<text transform="translate(395.7 133) scale(0.1)" font-size="33.5">30</text>
<text transform="translate(406.4 176.55) rotate(-90) scale(0.1)" font-size="36" text-anchor="middle">B (G)</text>
<g clip-path="url(#c12)"><g transform="translate(441.5 131.5)">
<g transform="translate(-0.5 -0.5) scale(0.19241)"><rect width="764" height="478" fill="url(#g12)"/><rect y="30" width="764" height="420" filter="url(#m12_0)"/><g mask="url(#k12_1)"><rect y="140" width="764" height="200" filter="url(#m12_1)"/></g><g filter="url(#d12)"><g filter="url(#bz6)"><ellipse cx="30" cy="115" rx="25" ry="10" fill="#b5cdfa"/><ellipse cx="210" cy="180" rx="15" ry="10" fill="#f5c1a9"/><ellipse cx="530" cy="190" rx="20" ry="20" fill="#f2cbb7"/><ellipse cx="430" cy="295" rx="25" ry="25" fill="#f5c1a9"/><ellipse cx="320" cy="310" rx="25" ry="15" fill="#aac7fd"/><ellipse cx="40" cy="300" rx="25" ry="10" fill="#f5c1a9"/><ellipse cx="750" cy="295" rx="10" ry="15" fill="#aac7fd"/><ellipse cx="690" cy="190" rx="20" ry="20" fill="#f7b89c"/></g><g filter="url(#bz3)"><ellipse cx="10" cy="185" rx="8" ry="6" fill="#445acc"/><ellipse cx="62" cy="192" rx="6" ry="6" fill="#4f69d9"/><ellipse cx="95" cy="222" rx="5" ry="4" fill="#d65244"/><ellipse cx="140" cy="188" rx="6" ry="5" fill="#4f69d9"/><ellipse cx="155" cy="168" rx="7" ry="8" fill="#c0282f"/><ellipse cx="172" cy="178" rx="5" ry="5" fill="#5977e3"/></g><g filter="url(#bz6)"><ellipse cx="324" cy="180" rx="33" ry="19" fill="#f7ac8e"/></g><g filter="url(#bz3)"><ellipse cx="303" cy="182" rx="12" ry="12" fill="#b40426"/><ellipse cx="324" cy="174" rx="20" ry="11" fill="#b40426"/><ellipse cx="346" cy="182" rx="12" ry="12" fill="#b40426"/><ellipse cx="326.7" cy="193" rx="7" ry="10" fill="#445acc"/><ellipse cx="321.3" cy="213" rx="5" ry="5" fill="#c0282f"/><ellipse cx="333.5" cy="211.6" rx="4" ry="4" fill="#7b9ff9"/><ellipse cx="368.8" cy="198" rx="16" ry="11" fill="#445acc"/></g><g filter="url(#bz6)"><ellipse cx="372" cy="192" rx="5" ry="4" fill="#b5cdfa"/></g><g filter="url(#bz3)"><ellipse cx="406.9" cy="215.7" rx="6" ry="8" fill="#445acc"/><ellipse cx="397.3" cy="210.3" rx="3" ry="4" fill="#e7745b"/><ellipse cx="465" cy="178" rx="4" ry="5" fill="#d65244"/><ellipse cx="495" cy="196" rx="4" ry="4" fill="#6485ec"/><ellipse cx="488" cy="195" rx="4" ry="4" fill="#e7745b"/><ellipse cx="690" cy="190" rx="12" ry="15" fill="#e7745b"/><ellipse cx="730" cy="195" rx="8" ry="10" fill="#b40426"/><ellipse cx="748" cy="190" rx="10" ry="12" fill="#3b4cc0"/><ellipse cx="720" cy="215" rx="5" ry="5" fill="#6f92f3"/><ellipse cx="240" cy="288" rx="8" ry="6" fill="#4f69d9"/><ellipse cx="262" cy="282" rx="6" ry="5" fill="#d65244"/><ellipse cx="282" cy="298" rx="7" ry="7" fill="#445acc"/><ellipse cx="298" cy="295" rx="10" ry="10" fill="#b40426"/><ellipse cx="375" cy="300" rx="5" ry="5" fill="#6f92f3"/><ellipse cx="430" cy="305" rx="6" ry="5" fill="#445acc"/><ellipse cx="445" cy="300" rx="12" ry="6" fill="#c0282f"/><ellipse cx="505" cy="282" rx="5" ry="6" fill="#4f69d9"/><ellipse cx="520" cy="280" rx="4" ry="4" fill="#e0654f"/><ellipse cx="545" cy="275" rx="8" ry="7" fill="#c0282f"/><ellipse cx="560" cy="285" rx="7" ry="6" fill="#4f69d9"/><ellipse cx="575" cy="285" rx="5" ry="6" fill="#cc403a"/><ellipse cx="690" cy="285" rx="5" ry="8" fill="#ee8468"/></g></g></g>
</g></g>
<rect x="441.5" y="131.5" width="146" height="90.1" fill="none" stroke="#222" stroke-width="0.4"/>
<path d="M441.5 221.6v1.6M461.78 221.6v1.6M482.06 221.6v1.6M502.33 221.6v1.6M522.61 221.6v1.6M542.89 221.6v1.6M563.17 221.6v1.6M583.44 221.6v1.6M441.5 216.59h-1.6M441.5 206.58h-1.6M441.5 196.57h-1.6M441.5 186.56h-1.6M441.5 176.55h-1.6M441.5 166.54h-1.6M441.5 156.53h-1.6M441.5 146.52h-1.6M441.5 136.51h-1.6" stroke="#222" stroke-width="0.5"/>
<text transform="translate(441.5 226.2) scale(0.1)" font-size="33.5" text-anchor="middle">0</text>
<text transform="translate(461.78 226.2) scale(0.1)" font-size="33.5" text-anchor="middle">50</text>
<text transform="translate(482.06 226.2) scale(0.1)" font-size="33.5" text-anchor="middle">100</text>
<text transform="translate(502.33 226.2) scale(0.1)" font-size="33.5" text-anchor="middle">150</text>
<text transform="translate(522.61 226.2) scale(0.1)" font-size="33.5" text-anchor="middle">200</text>
<text transform="translate(542.89 226.2) scale(0.1)" font-size="33.5" text-anchor="middle">250</text>
<text transform="translate(563.17 226.2) scale(0.1)" font-size="33.5" text-anchor="middle">300</text>
<text transform="translate(583.44 226.2) scale(0.1)" font-size="33.5" text-anchor="middle">350</text>
<text transform="translate(439.4 217.74) scale(0.1)" font-size="33.5" text-anchor="end">−80</text>
<text transform="translate(439.4 207.73) scale(0.1)" font-size="33.5" text-anchor="end">−60</text>
<text transform="translate(439.4 197.72) scale(0.1)" font-size="33.5" text-anchor="end">−40</text>
<text transform="translate(439.4 187.71) scale(0.1)" font-size="33.5" text-anchor="end">−20</text>
<text transform="translate(439.4 177.7) scale(0.1)" font-size="33.5" text-anchor="end">0</text>
<text transform="translate(439.4 167.69) scale(0.1)" font-size="33.5" text-anchor="end">20</text>
<text transform="translate(439.4 157.68) scale(0.1)" font-size="33.5" text-anchor="end">40</text>
<text transform="translate(439.4 147.67) scale(0.1)" font-size="33.5" text-anchor="end">60</text>
<text transform="translate(439.4 137.66) scale(0.1)" font-size="33.5" text-anchor="end">80</text>
<text transform="translate(514.5 232) scale(0.1)" font-size="46" text-anchor="middle">Longitude</text>
<text transform="translate(430.8 176.55) rotate(-90) scale(0.1)" font-size="46" text-anchor="middle">Latitude</text>
<text transform="translate(514.5 130.4) scale(0.1)" font-size="46" text-anchor="middle">Real CR2112 GONG</text>
<rect x="596.1" y="131.5" width="4.7" height="90.1" fill="url(#cb)"/>
<path d="M596.1 131.5v90.1M600.8 131.5v90.1" stroke="#222" stroke-width="0.5"/>
<path d="M600.8 221.6h1.5M600.8 214.09h1.5M600.8 206.58h1.5M600.8 199.07h1.5M600.8 191.57h1.5M600.8 184.06h1.5M600.8 176.55h1.5M600.8 169.04h1.5M600.8 161.53h1.5M600.8 154.03h1.5M600.8 146.52h1.5M600.8 139.01h1.5M600.8 131.5h1.5" stroke="#222" stroke-width="0.5"/>
<text transform="translate(603 223.1) scale(0.1)" font-size="33.5">−30</text>
<text transform="translate(603 215.59) scale(0.1)" font-size="33.5">−25</text>
<text transform="translate(603 208.08) scale(0.1)" font-size="33.5">−20</text>
<text transform="translate(603 200.57) scale(0.1)" font-size="33.5">−15</text>
<text transform="translate(603 193.07) scale(0.1)" font-size="33.5">−10</text>
<text transform="translate(603 185.56) scale(0.1)" font-size="33.5">−5</text>
<text transform="translate(603 178.05) scale(0.1)" font-size="33.5">0</text>
<text transform="translate(603 170.54) scale(0.1)" font-size="33.5">5</text>
<text transform="translate(603 163.03) scale(0.1)" font-size="33.5">10</text>
<text transform="translate(603 155.53) scale(0.1)" font-size="33.5">15</text>
<text transform="translate(603 148.02) scale(0.1)" font-size="33.5">20</text>
<text transform="translate(603 140.51) scale(0.1)" font-size="33.5">25</text>
<text transform="translate(603 133) scale(0.1)" font-size="33.5">30</text>
<text transform="translate(613.7 176.55) rotate(-90) scale(0.1)" font-size="36" text-anchor="middle">B (G)</text>
<g clip-path="url(#c13)"><g transform="translate(646.2 131.5)">
<g transform="translate(-0.2 -0.5) scale(0.19241)"><rect width="764" height="478" fill="url(#g13)"/><g filter="url(#bz15)"><ellipse cx="600" cy="380" rx="160" ry="90" fill="#e5d8d1"/></g><g filter="url(#bz8)"><ellipse cx="277" cy="372.8" rx="110" ry="20" fill="#c0d4f5" transform="rotate(-10 277 372.8)"/><ellipse cx="260.8" cy="169" rx="24" ry="81" fill="#efcebd" transform="rotate(-30 260.8 169)"/></g><g filter="url(#bz6)"><ellipse cx="81.5" cy="128.3" rx="61" ry="16" fill="#f7b89c" transform="rotate(30 81.5 128.3)"/></g><g filter="url(#bz4)"><ellipse cx="95" cy="118" rx="30" ry="10" fill="#f5a081" transform="rotate(30 95 118)"/></g><g filter="url(#bz8)"><ellipse cx="48.9" cy="177.2" rx="40" ry="40" fill="#9ebeff"/></g><g filter="url(#bz4)"><ellipse cx="69.3" cy="165" rx="12" ry="22" fill="#86a9fc"/><ellipse cx="16.3" cy="152.7" rx="12" ry="18" fill="#93b5fe"/></g><g filter="url(#bz5)"><ellipse cx="12.2" cy="205.7" rx="12" ry="22" fill="#f7b89c"/></g><g filter="url(#bz3)"><ellipse cx="179" cy="128.3" rx="15" ry="5" fill="#b5cdfa"/></g><g filter="url(#bz5)"><ellipse cx="569.8" cy="152.7" rx="16" ry="37" fill="#f7b89c" transform="rotate(-35 569.8 152.7)"/><ellipse cx="610.5" cy="152.7" rx="12" ry="30" fill="#b5cdfa" transform="rotate(-30 610.5 152.7)"/><ellipse cx="683.9" cy="209.8" rx="10" ry="25" fill="#c0d4f5"/><ellipse cx="651" cy="209.8" rx="12" ry="30" fill="#edd2c3"/></g><g filter="url(#bz6)"><ellipse cx="724.6" cy="136.4" rx="25" ry="40" fill="#f7b89c"/></g><g filter="url(#bz5)"><ellipse cx="549.4" cy="295.4" rx="10" ry="25" fill="#f5c1a9"/></g><g filter="url(#bz6)"><ellipse cx="106" cy="323.9" rx="25" ry="50" fill="#f7b89c" transform="rotate(20 106 323.9)"/></g><g filter="url(#bz4)"><ellipse cx="106" cy="323.9" rx="15" ry="33" fill="#e7745b" transform="rotate(20 106 323.9)"/><ellipse cx="69.3" cy="332" rx="12" ry="28" fill="#7b9ff9" transform="rotate(20 69.3 332)"/></g><g filter="url(#bz6)"><ellipse cx="390.5" cy="169" rx="28" ry="40" fill="#93b5fe"/><ellipse cx="402.7" cy="328" rx="25" ry="60" fill="#9ebeff" transform="rotate(55 402.7 328)"/></g><g filter="url(#bz4)"><ellipse cx="402.7" cy="328" rx="12" ry="33" fill="#5977e3" transform="rotate(55 402.7 328)"/></g><g filter="url(#bz5)"><ellipse cx="366.7" cy="356.5" rx="25" ry="15" fill="#86a9fc" transform="rotate(-30 366.7 356.5)"/></g><g filter="url(#bz8)"><ellipse cx="488.3" cy="299.4" rx="40" ry="90" fill="#f5c1a9" transform="rotate(45 488.3 299.4)"/></g><g filter="url(#bz5)"><ellipse cx="488.3" cy="299.4" rx="24" ry="57" fill="#ee8468" transform="rotate(45 488.3 299.4)"/></g><g filter="url(#bz3)"><ellipse cx="480" cy="310" rx="14" ry="38" fill="#e0654f" transform="rotate(45 480 310)"/></g><g filter="url(#bz6)"><ellipse cx="150.8" cy="134.8" rx="6" ry="9" fill="#f7ac8e"/><ellipse cx="163" cy="134.8" rx="6" ry="7.5" fill="#9ebeff"/><ellipse cx="312" cy="152.7" rx="16.5" ry="27" fill="#f7ac8e"/><ellipse cx="346.3" cy="148.7" rx="21" ry="30" fill="#f7ac8e"/><ellipse cx="330" cy="169" rx="9" ry="22.5" fill="#9ebeff"/><ellipse cx="380" cy="170" rx="27" ry="37.5" fill="#9ebeff"/><ellipse cx="278.7" cy="329.6" rx="12" ry="21" fill="#9ebeff"/><ellipse cx="299.9" cy="326.3" rx="15" ry="24" fill="#f7ac8e"/><ellipse cx="446" cy="338.5" rx="15" ry="19.5" fill="#f7ac8e"/><ellipse cx="740.9" cy="165" rx="16.5" ry="34.5" fill="#f7ac8e" transform="rotate(-20 740.9 165)"/></g><g filter="url(#bz2)"><ellipse cx="150.8" cy="134.8" rx="4" ry="6" fill="#b40426"/><ellipse cx="163" cy="134.8" rx="4" ry="5" fill="#4f69d9"/></g><g filter="url(#bz4)"><ellipse cx="312" cy="152.7" rx="11" ry="18" fill="#b40426"/><ellipse cx="346.3" cy="148.7" rx="14" ry="20" fill="#b40426"/><ellipse cx="330" cy="169" rx="6" ry="15" fill="#4f69d9"/></g><g filter="url(#bz6)"><ellipse cx="358.6" cy="193.5" rx="8" ry="10" fill="#f7b89c"/></g><g filter="url(#bz4)"><ellipse cx="380" cy="170" rx="18" ry="25" fill="#3f53c6"/><ellipse cx="278.7" cy="329.6" rx="8" ry="14" fill="#445acc"/><ellipse cx="299.9" cy="326.3" rx="10" ry="16" fill="#b40426"/><ellipse cx="446" cy="338.5" rx="10" ry="13" fill="#b40426"/><ellipse cx="740.9" cy="165" rx="11" ry="23" fill="#ba162b" transform="rotate(-20 740.9 165)"/><ellipse cx="757" cy="148.7" rx="5" ry="12" fill="#6f92f3"/></g></g>
</g></g>
<path d="M646 131.5h146.5M646 221.6h146.5" stroke="#222" stroke-width="0.4"/>
<path d="M646.2 221.6v1.6M666.49 221.6v1.6M686.78 221.6v1.6M707.08 221.6v1.6M727.37 221.6v1.6M747.66 221.6v1.6M767.95 221.6v1.6M788.24 221.6v1.6M646.2 216.59h-1.6M646.2 206.58h-1.6M646.2 196.57h-1.6M646.2 186.56h-1.6M646.2 176.55h-1.6M646.2 166.54h-1.6M646.2 156.53h-1.6M646.2 146.52h-1.6M646.2 136.51h-1.6" stroke="#222" stroke-width="0.5"/>
<text transform="translate(646.2 226.2) scale(0.1)" font-size="33.5" text-anchor="middle">0</text>
<text transform="translate(666.49 226.2) scale(0.1)" font-size="33.5" text-anchor="middle">50</text>
<text transform="translate(686.78 226.2) scale(0.1)" font-size="33.5" text-anchor="middle">100</text>
<text transform="translate(707.08 226.2) scale(0.1)" font-size="33.5" text-anchor="middle">150</text>
<text transform="translate(727.37 226.2) scale(0.1)" font-size="33.5" text-anchor="middle">200</text>
<text transform="translate(747.66 226.2) scale(0.1)" font-size="33.5" text-anchor="middle">250</text>
<text transform="translate(767.95 226.2) scale(0.1)" font-size="33.5" text-anchor="middle">300</text>
<text transform="translate(788.24 226.2) scale(0.1)" font-size="33.5" text-anchor="middle">350</text>
<text transform="translate(644.1 217.74) scale(0.1)" font-size="33.5" text-anchor="end">−80</text>
<text transform="translate(644.1 207.73) scale(0.1)" font-size="33.5" text-anchor="end">−60</text>
<text transform="translate(644.1 197.72) scale(0.1)" font-size="33.5" text-anchor="end">−40</text>
<text transform="translate(644.1 187.71) scale(0.1)" font-size="33.5" text-anchor="end">−20</text>
<text transform="translate(644.1 177.7) scale(0.1)" font-size="33.5" text-anchor="end">0</text>
<text transform="translate(644.1 167.69) scale(0.1)" font-size="33.5" text-anchor="end">20</text>
<text transform="translate(644.1 157.68) scale(0.1)" font-size="33.5" text-anchor="end">40</text>
<text transform="translate(644.1 147.67) scale(0.1)" font-size="33.5" text-anchor="end">60</text>
<text transform="translate(644.1 137.66) scale(0.1)" font-size="33.5" text-anchor="end">80</text>
<text transform="translate(719.25 232) scale(0.1)" font-size="46" text-anchor="middle">Longitude</text>
<text transform="translate(635.5 176.55) rotate(-90) scale(0.1)" font-size="46" text-anchor="middle">Latitude</text>
<text transform="translate(719.25 130.4) scale(0.1)" font-size="46" text-anchor="middle">Synthetic CR2112</text>
<rect x="801.1" y="131.5" width="4.7" height="90.1" fill="url(#cb)"/>
<path d="M801.1 131.5v90.1M805.8 131.5v90.1" stroke="#222" stroke-width="0.5"/>
<path d="M805.8 221.6h1.5M805.8 214.09h1.5M805.8 206.58h1.5M805.8 199.07h1.5M805.8 191.57h1.5M805.8 184.06h1.5M805.8 176.55h1.5M805.8 169.04h1.5M805.8 161.53h1.5M805.8 154.03h1.5M805.8 146.52h1.5M805.8 139.01h1.5M805.8 131.5h1.5" stroke="#222" stroke-width="0.5"/>
<text transform="translate(808 223.1) scale(0.1)" font-size="33.5">−30</text>
<text transform="translate(808 215.59) scale(0.1)" font-size="33.5">−25</text>
<text transform="translate(808 208.08) scale(0.1)" font-size="33.5">−20</text>
<text transform="translate(808 200.57) scale(0.1)" font-size="33.5">−15</text>
<text transform="translate(808 193.07) scale(0.1)" font-size="33.5">−10</text>
<text transform="translate(808 185.56) scale(0.1)" font-size="33.5">−5</text>
<text transform="translate(808 178.05) scale(0.1)" font-size="33.5">0</text>
<text transform="translate(808 170.54) scale(0.1)" font-size="33.5">5</text>
<text transform="translate(808 163.03) scale(0.1)" font-size="33.5">10</text>
<text transform="translate(808 155.53) scale(0.1)" font-size="33.5">15</text>
<text transform="translate(808 148.02) scale(0.1)" font-size="33.5">20</text>
<text transform="translate(808 140.51) scale(0.1)" font-size="33.5">25</text>
<text transform="translate(808 133) scale(0.1)" font-size="33.5">30</text>
<text transform="translate(818.7 176.55) rotate(-90) scale(0.1)" font-size="36" text-anchor="middle">B (G)</text>
<g clip-path="url(#c20)"><g transform="translate(29.1 249.2)">
<g transform="translate(-0.1 -1.2) scale(0.19241)"><rect width="764" height="478" fill="url(#g20)"/><rect y="25" width="764" height="175" filter="url(#t20_0)"/><rect y="200" width="764" height="100" filter="url(#t20_1)"/><rect y="300" width="764" height="162" filter="url(#t20_2)"/><g filter="url(#d20)"><g filter="url(#bz2_5)"><ellipse cx="380" cy="18" rx="60" ry="6" fill="#445acc"/><ellipse cx="520" cy="12" rx="40" ry="4" fill="#5977e3"/><ellipse cx="80" cy="30" rx="10" ry="4" fill="#445acc"/><ellipse cx="600" cy="25" rx="10" ry="4" fill="#4f69d9"/><ellipse cx="280" cy="45" rx="6" ry="4" fill="#5977e3"/><ellipse cx="500" cy="45" rx="6" ry="4" fill="#5977e3"/><ellipse cx="10" cy="75" rx="5" ry="4" fill="#5977e3"/><ellipse cx="30" cy="438" rx="12" ry="4" fill="#e0654f"/><ellipse cx="100" cy="432" rx="12" ry="4" fill="#e7745b"/><ellipse cx="160" cy="436" rx="10" ry="4" fill="#e0654f"/><ellipse cx="210" cy="436" rx="8" ry="4" fill="#e7745b"/><ellipse cx="270" cy="430" rx="20" ry="5" fill="#d65244"/><ellipse cx="350" cy="425" rx="8" ry="4" fill="#e7745b"/><ellipse cx="410" cy="434" rx="14" ry="5" fill="#d65244"/><ellipse cx="520" cy="438" rx="15" ry="4" fill="#e0654f"/><ellipse cx="555" cy="438" rx="12" ry="4" fill="#e0654f"/><ellipse cx="640" cy="432" rx="10" ry="4" fill="#e7745b"/><ellipse cx="700" cy="436" rx="10" ry="4" fill="#e0654f"/><ellipse cx="740" cy="430" rx="10" ry="4" fill="#e7745b"/><ellipse cx="320" cy="440" rx="12" ry="4" fill="#6f92f3"/><ellipse cx="95" cy="278" rx="28" ry="22" fill="#ee8468"/><ellipse cx="150" cy="290" rx="15" ry="18" fill="#ee8468"/><ellipse cx="291" cy="256" rx="16" ry="26" fill="#ee8468"/><ellipse cx="580" cy="235" rx="25" ry="15" fill="#ee8468"/><ellipse cx="563" cy="271" rx="20" ry="18" fill="#ee8468"/><ellipse cx="729" cy="222" rx="18" ry="18" fill="#ee8468"/><ellipse cx="4.9" cy="231.8" rx="5" ry="7" fill="#c0282f"/><ellipse cx="4.9" cy="270.9" rx="4" ry="5" fill="#c0282f"/><ellipse cx="119.9" cy="231.8" rx="7" ry="5" fill="#b40426"/><ellipse cx="107.7" cy="246.4" rx="5" ry="6" fill="#cc403a"/><ellipse cx="90" cy="275" rx="12" ry="10" fill="#b40426"/><ellipse cx="108" cy="270" rx="9" ry="8" fill="#b40426"/><ellipse cx="115" cy="284" rx="8" ry="7" fill="#b40426"/><ellipse cx="82" cy="290" rx="7" ry="8" fill="#c0282f"/><ellipse cx="156.6" cy="290.5" rx="10" ry="13" fill="#b40426"/><ellipse cx="183.5" cy="278.2" rx="6" ry="11" fill="#b40426"/><ellipse cx="291.2" cy="256.2" rx="10" ry="20" fill="#b40426"/><ellipse cx="296" cy="231.8" rx="6" ry="8" fill="#b40426"/><ellipse cx="380" cy="270.9" rx="10" ry="16" fill="#b40426"/><ellipse cx="171.3" cy="168.1" rx="4" ry="5" fill="#cc403a"/><ellipse cx="357.3" cy="163.2" rx="4" ry="5" fill="#cc403a"/><ellipse cx="146.8" cy="310" rx="5" ry="4" fill="#d65244"/><ellipse cx="587.4" cy="226.9" rx="16" ry="9" fill="#b40426"/><ellipse cx="563" cy="270.9" rx="14" ry="14" fill="#b40426"/><ellipse cx="621.6" cy="280.7" rx="7" ry="6" fill="#b40426"/><ellipse cx="729.3" cy="222" rx="13" ry="13" fill="#b40426"/><ellipse cx="753.8" cy="231.8" rx="6" ry="10" fill="#b40426"/><ellipse cx="396.5" cy="192.6" rx="3" ry="3" fill="#d65244"/><ellipse cx="717.1" cy="288" rx="4" ry="4" fill="#cc403a"/><ellipse cx="22" cy="270.9" rx="12" ry="11" fill="#3b4cc0"/><ellipse cx="58.7" cy="192.6" rx="8" ry="5" fill="#445acc"/><ellipse cx="203" cy="231.8" rx="7" ry="6" fill="#3b4cc0"/><ellipse cx="205.5" cy="280.7" rx="18" ry="17" fill="#3b4cc0"/><ellipse cx="195.8" cy="244" rx="8" ry="6" fill="#3b4cc0"/><ellipse cx="210" cy="262" rx="10" ry="10" fill="#3f53c6"/><ellipse cx="232.5" cy="273.4" rx="8" ry="6" fill="#3b4cc0"/><ellipse cx="139.5" cy="283.1" rx="6" ry="8" fill="#3b4cc0"/><ellipse cx="168.8" cy="275.8" rx="5" ry="8" fill="#3b4cc0"/><ellipse cx="301" cy="270.9" rx="11" ry="14" fill="#3b4cc0"/><ellipse cx="367" cy="197.5" rx="6" ry="5" fill="#445acc"/><ellipse cx="44" cy="209.7" rx="3" ry="3" fill="#5977e3"/><ellipse cx="411.2" cy="258.7" rx="12" ry="12" fill="#3b4cc0"/><ellipse cx="553.1" cy="207.3" rx="22" ry="10" fill="#3b4cc0" transform="rotate(20 553.1 207.3)"/><ellipse cx="580" cy="275.8" rx="12" ry="8" fill="#3b4cc0"/><ellipse cx="633.9" cy="268.5" rx="8" ry="8" fill="#3b4cc0"/><ellipse cx="722" cy="192.6" rx="20" ry="18" fill="#3b4cc0"/><ellipse cx="705" cy="180" rx="10" ry="8" fill="#445acc"/><ellipse cx="741.6" cy="236.7" rx="6" ry="6" fill="#445acc"/><ellipse cx="748.9" cy="270.9" rx="5" ry="8" fill="#445acc"/><ellipse cx="746.5" cy="293" rx="8" ry="5" fill="#445acc"/><ellipse cx="697.5" cy="163.2" rx="4" ry="4" fill="#4f69d9"/></g></g></g>
</g></g>
<path d="M28.9 249.2h146.5M28.9 339.4h146.5" stroke="#222" stroke-width="0.4"/>
<path d="M29.1 339.4v1.6M49.39 339.4v1.6M69.68 339.4v1.6M89.97 339.4v1.6M110.27 339.4v1.6M130.56 339.4v1.6M150.85 339.4v1.6M171.14 339.4v1.6M29.1 334.39h-1.6M29.1 324.37h-1.6M29.1 314.34h-1.6M29.1 304.32h-1.6M29.1 294.3h-1.6M29.1 284.28h-1.6M29.1 274.26h-1.6M29.1 264.23h-1.6M29.1 254.21h-1.6" stroke="#222" stroke-width="0.5"/>
<text transform="translate(29.1 344) scale(0.1)" font-size="33.5" text-anchor="middle">0</text>
<text transform="translate(49.39 344) scale(0.1)" font-size="33.5" text-anchor="middle">50</text>
<text transform="translate(69.68 344) scale(0.1)" font-size="33.5" text-anchor="middle">100</text>
<text transform="translate(89.97 344) scale(0.1)" font-size="33.5" text-anchor="middle">150</text>
<text transform="translate(110.27 344) scale(0.1)" font-size="33.5" text-anchor="middle">200</text>
<text transform="translate(130.56 344) scale(0.1)" font-size="33.5" text-anchor="middle">250</text>
<text transform="translate(150.85 344) scale(0.1)" font-size="33.5" text-anchor="middle">300</text>
<text transform="translate(171.14 344) scale(0.1)" font-size="33.5" text-anchor="middle">350</text>
<text transform="translate(27 335.54) scale(0.1)" font-size="33.5" text-anchor="end">−80</text>
<text transform="translate(27 325.52) scale(0.1)" font-size="33.5" text-anchor="end">−60</text>
<text transform="translate(27 315.49) scale(0.1)" font-size="33.5" text-anchor="end">−40</text>
<text transform="translate(27 305.47) scale(0.1)" font-size="33.5" text-anchor="end">−20</text>
<text transform="translate(27 295.45) scale(0.1)" font-size="33.5" text-anchor="end">0</text>
<text transform="translate(27 285.43) scale(0.1)" font-size="33.5" text-anchor="end">20</text>
<text transform="translate(27 275.41) scale(0.1)" font-size="33.5" text-anchor="end">40</text>
<text transform="translate(27 265.38) scale(0.1)" font-size="33.5" text-anchor="end">60</text>
<text transform="translate(27 255.36) scale(0.1)" font-size="33.5" text-anchor="end">80</text>
<text transform="translate(102.15 349.8) scale(0.1)" font-size="46" text-anchor="middle">Longitude</text>
<text transform="translate(18.4 294.3) rotate(-90) scale(0.1)" font-size="46" text-anchor="middle">Latitude</text>
<text transform="translate(102.15 248.1) scale(0.1)" font-size="46" text-anchor="middle">Real CR2023 MDI</text>
<rect x="184.3" y="249.2" width="4.7" height="90.2" fill="url(#cb)"/>
<path d="M184.3 249.2v90.2M189 249.2v90.2" stroke="#222" stroke-width="0.5"/>
<path d="M189 339.4h1.5M189 331.88h1.5M189 324.37h1.5M189 316.85h1.5M189 309.33h1.5M189 301.82h1.5M189 294.3h1.5M189 286.78h1.5M189 279.27h1.5M189 271.75h1.5M189 264.23h1.5M189 256.72h1.5M189 249.2h1.5" stroke="#222" stroke-width="0.5"/>
<text transform="translate(191.2 340.9) scale(0.1)" font-size="33.5">−30</text>
<text transform="translate(191.2 333.38) scale(0.1)" font-size="33.5">−25</text>
<text transform="translate(191.2 325.87) scale(0.1)" font-size="33.5">−20</text>
<text transform="translate(191.2 318.35) scale(0.1)" font-size="33.5">−15</text>
<text transform="translate(191.2 310.83) scale(0.1)" font-size="33.5">−10</text>
<text transform="translate(191.2 303.32) scale(0.1)" font-size="33.5">−5</text>
<text transform="translate(191.2 295.8) scale(0.1)" font-size="33.5">0</text>
<text transform="translate(191.2 288.28) scale(0.1)" font-size="33.5">5</text>
<text transform="translate(191.2 280.77) scale(0.1)" font-size="33.5">10</text>
<text transform="translate(191.2 273.25) scale(0.1)" font-size="33.5">15</text>
<text transform="translate(191.2 265.73) scale(0.1)" font-size="33.5">20</text>
<text transform="translate(191.2 258.22) scale(0.1)" font-size="33.5">25</text>
<text transform="translate(191.2 250.7) scale(0.1)" font-size="33.5">30</text>
<text transform="translate(201.9 294.3) rotate(-90) scale(0.1)" font-size="36" text-anchor="middle">B (G)</text>
<g clip-path="url(#c21)"><g transform="translate(234.5 249.2)">
<g transform="translate(-0.5 -1.2) scale(0.19241)"><rect width="764" height="478" fill="url(#g21)"/><g filter="url(#bz8)"><ellipse cx="496.4" cy="125.3" rx="130" ry="16" fill="#e9d5cb" transform="rotate(15 496.4 125.3)"/><ellipse cx="578" cy="353.5" rx="122" ry="16" fill="#efcebd" transform="rotate(-25 578 353.5)"/></g><g filter="url(#bz6)"><ellipse cx="187.4" cy="206.8" rx="12" ry="40" fill="#f5c1a9" transform="rotate(-20 187.4 206.8)"/><ellipse cx="195.6" cy="149.8" rx="15" ry="40" fill="#c0d4f5" transform="rotate(-30 195.6 149.8)"/><ellipse cx="40.7" cy="312.8" rx="24" ry="40" fill="#aac7fd"/></g><g filter="url(#bz4)"><ellipse cx="12.2" cy="296.5" rx="10" ry="15" fill="#f7ac8e"/></g><g filter="url(#bz6)"><ellipse cx="134.5" cy="296.5" rx="20" ry="73" fill="#f7ac8e" transform="rotate(30 134.5 296.5)"/></g><g filter="url(#bz4)"><ellipse cx="159" cy="325" rx="8" ry="24" fill="#93b5fe" transform="rotate(20 159 325)"/></g><g filter="url(#bz6)"><ellipse cx="57" cy="198.7" rx="28" ry="45" fill="#f7ac8e"/><ellipse cx="232.2" cy="292.4" rx="30" ry="52" fill="#93b5fe"/><ellipse cx="582" cy="186.5" rx="20" ry="48" fill="#93b5fe" transform="rotate(-20 582 186.5)"/><ellipse cx="622.7" cy="202.8" rx="20" ry="42" fill="#f7ac8e"/><ellipse cx="406.8" cy="288.3" rx="16" ry="42" fill="#f7b89c" transform="rotate(15 406.8 288.3)"/></g><g filter="url(#bz4)"><ellipse cx="406.8" cy="288.3" rx="11" ry="37" fill="#e7745b" transform="rotate(15 406.8 288.3)"/><ellipse cx="443.5" cy="272" rx="11" ry="33" fill="#7b9ff9" transform="rotate(15 443.5 272)"/></g><g filter="url(#bz5)"><ellipse cx="740.9" cy="321" rx="20" ry="33" fill="#f7ac8e"/></g><g filter="url(#bz4)"><ellipse cx="622.7" cy="202.8" rx="15" ry="33" fill="#e0654f"/></g><g filter="url(#bz6)"><ellipse cx="8.1" cy="166" rx="18" ry="36" fill="#9ebeff"/><ellipse cx="4" cy="215" rx="6" ry="18" fill="#f7ac8e"/><ellipse cx="57" cy="198.7" rx="30" ry="57" fill="#f7ac8e"/><ellipse cx="128.8" cy="311.1" rx="22.5" ry="40.5" fill="#f7ac8e" transform="rotate(20 128.8 311.1)"/><ellipse cx="194" cy="304.6" rx="21" ry="54" fill="#f7ac8e" transform="rotate(15 194 304.6)"/><ellipse cx="232.2" cy="292.4" rx="30" ry="66" fill="#9ebeff"/><ellipse cx="289.3" cy="273.7" rx="10.5" ry="22.5" fill="#f7ac8e"/><ellipse cx="308" cy="277.7" rx="10.5" ry="16.5" fill="#9ebeff"/><ellipse cx="582" cy="186.5" rx="18" ry="49.5" fill="#9ebeff" transform="rotate(-20 582 186.5)"/><ellipse cx="618.7" cy="198.7" rx="15" ry="37.5" fill="#f7ac8e"/><ellipse cx="573.9" cy="292.4" rx="15" ry="34.5" fill="#f7ac8e"/><ellipse cx="594.2" cy="300.5" rx="15" ry="30" fill="#9ebeff"/><ellipse cx="736.8" cy="166" rx="36" ry="49.5" fill="#9ebeff"/><ellipse cx="750.7" cy="215" rx="15" ry="36" fill="#f7ac8e"/></g><g filter="url(#bz4)"><ellipse cx="8.1" cy="166" rx="12" ry="24" fill="#3b4cc0"/><ellipse cx="4" cy="215" rx="4" ry="12" fill="#c0282f"/><ellipse cx="12.2" cy="235" rx="8" ry="12" fill="#7b9ff9"/><ellipse cx="57" cy="198.7" rx="20" ry="38" fill="#b40426"/><ellipse cx="128.8" cy="311.1" rx="15" ry="27" fill="#b40426" transform="rotate(20 128.8 311.1)"/><ellipse cx="194" cy="304.6" rx="14" ry="36" fill="#b40426" transform="rotate(15 194 304.6)"/><ellipse cx="232.2" cy="292.4" rx="20" ry="44" fill="#3b4cc0"/><ellipse cx="289.3" cy="273.7" rx="7" ry="15" fill="#c0282f"/><ellipse cx="308" cy="277.7" rx="7" ry="11" fill="#445acc"/><ellipse cx="582" cy="186.5" rx="12" ry="33" fill="#4961d2" transform="rotate(-20 582 186.5)"/><ellipse cx="618.7" cy="198.7" rx="10" ry="25" fill="#c0282f"/><ellipse cx="573.9" cy="292.4" rx="10" ry="23" fill="#b40426"/><ellipse cx="594.2" cy="300.5" rx="10" ry="20" fill="#3f53c6"/><ellipse cx="736.8" cy="166" rx="24" ry="33" fill="#3b4cc0"/><ellipse cx="750.7" cy="215" rx="10" ry="24" fill="#b40426"/></g></g>
</g></g>
<rect x="234.5" y="249.2" width="145.1" height="90.2" fill="none" stroke="#222" stroke-width="0.4"/>
<path d="M234.5 339.4v1.6M254.65 339.4v1.6M274.81 339.4v1.6M294.96 339.4v1.6M315.11 339.4v1.6M335.26 339.4v1.6M355.42 339.4v1.6M375.57 339.4v1.6M234.5 334.39h-1.6M234.5 324.37h-1.6M234.5 314.34h-1.6M234.5 304.32h-1.6M234.5 294.3h-1.6M234.5 284.28h-1.6M234.5 274.26h-1.6M234.5 264.23h-1.6M234.5 254.21h-1.6" stroke="#222" stroke-width="0.5"/>
<text transform="translate(234.5 344) scale(0.1)" font-size="33.5" text-anchor="middle">0</text>
<text transform="translate(254.65 344) scale(0.1)" font-size="33.5" text-anchor="middle">50</text>
<text transform="translate(274.81 344) scale(0.1)" font-size="33.5" text-anchor="middle">100</text>
<text transform="translate(294.96 344) scale(0.1)" font-size="33.5" text-anchor="middle">150</text>
<text transform="translate(315.11 344) scale(0.1)" font-size="33.5" text-anchor="middle">200</text>
<text transform="translate(335.26 344) scale(0.1)" font-size="33.5" text-anchor="middle">250</text>
<text transform="translate(355.42 344) scale(0.1)" font-size="33.5" text-anchor="middle">300</text>
<text transform="translate(375.57 344) scale(0.1)" font-size="33.5" text-anchor="middle">350</text>
<text transform="translate(232.4 335.54) scale(0.1)" font-size="33.5" text-anchor="end">−80</text>
<text transform="translate(232.4 325.52) scale(0.1)" font-size="33.5" text-anchor="end">−60</text>
<text transform="translate(232.4 315.49) scale(0.1)" font-size="33.5" text-anchor="end">−40</text>
<text transform="translate(232.4 305.47) scale(0.1)" font-size="33.5" text-anchor="end">−20</text>
<text transform="translate(232.4 295.45) scale(0.1)" font-size="33.5" text-anchor="end">0</text>
<text transform="translate(232.4 285.43) scale(0.1)" font-size="33.5" text-anchor="end">20</text>
<text transform="translate(232.4 275.41) scale(0.1)" font-size="33.5" text-anchor="end">40</text>
<text transform="translate(232.4 265.38) scale(0.1)" font-size="33.5" text-anchor="end">60</text>
<text transform="translate(232.4 255.36) scale(0.1)" font-size="33.5" text-anchor="end">80</text>
<text transform="translate(307.05 349.8) scale(0.1)" font-size="46" text-anchor="middle">Longitude</text>
<text transform="translate(223.8 294.3) rotate(-90) scale(0.1)" font-size="46" text-anchor="middle">Latitude</text>
<text transform="translate(307.05 248.1) scale(0.1)" font-size="46" text-anchor="middle">Synthetic CR2023</text>
<rect x="388.8" y="249.2" width="4.7" height="90.2" fill="url(#cb)"/>
<path d="M388.8 249.2v90.2M393.5 249.2v90.2" stroke="#222" stroke-width="0.5"/>
<path d="M393.5 339.4h1.5M393.5 331.88h1.5M393.5 324.37h1.5M393.5 316.85h1.5M393.5 309.33h1.5M393.5 301.82h1.5M393.5 294.3h1.5M393.5 286.78h1.5M393.5 279.27h1.5M393.5 271.75h1.5M393.5 264.23h1.5M393.5 256.72h1.5M393.5 249.2h1.5" stroke="#222" stroke-width="0.5"/>
<text transform="translate(395.7 340.9) scale(0.1)" font-size="33.5">−30</text>
<text transform="translate(395.7 333.38) scale(0.1)" font-size="33.5">−25</text>
<text transform="translate(395.7 325.87) scale(0.1)" font-size="33.5">−20</text>
<text transform="translate(395.7 318.35) scale(0.1)" font-size="33.5">−15</text>
<text transform="translate(395.7 310.83) scale(0.1)" font-size="33.5">−10</text>
<text transform="translate(395.7 303.32) scale(0.1)" font-size="33.5">−5</text>
<text transform="translate(395.7 295.8) scale(0.1)" font-size="33.5">0</text>
<text transform="translate(395.7 288.28) scale(0.1)" font-size="33.5">5</text>
<text transform="translate(395.7 280.77) scale(0.1)" font-size="33.5">10</text>
<text transform="translate(395.7 273.25) scale(0.1)" font-size="33.5">15</text>
<text transform="translate(395.7 265.73) scale(0.1)" font-size="33.5">20</text>
<text transform="translate(395.7 258.22) scale(0.1)" font-size="33.5">25</text>
<text transform="translate(395.7 250.7) scale(0.1)" font-size="33.5">30</text>
<text transform="translate(406.4 294.3) rotate(-90) scale(0.1)" font-size="36" text-anchor="middle">B (G)</text>
<g clip-path="url(#c22)"><g transform="translate(441.5 249.2)">
<g transform="translate(-0.5 -1.2) scale(0.19241)"><rect width="764" height="478" fill="url(#g22)"/><rect y="20" width="764" height="450" filter="url(#m22_0)"/><g mask="url(#k22_1)"><rect y="140" width="764" height="210" filter="url(#m22_1)"/></g><g filter="url(#d22)"><g filter="url(#bz6)"><ellipse cx="105" cy="270" rx="25" ry="15" fill="#f7b89c"/><ellipse cx="210" cy="180" rx="10" ry="6" fill="#f7b89c"/><ellipse cx="300" cy="270" rx="15" ry="10" fill="#f7ac8e"/><ellipse cx="350" cy="305" rx="25" ry="15" fill="#86a9fc"/></g><g filter="url(#bz3)"><ellipse cx="260" cy="300" rx="15" ry="10" fill="#7b9ff9"/></g><g filter="url(#bz6)"><ellipse cx="130" cy="195" rx="20" ry="8" fill="#b5cdfa"/><ellipse cx="614.3" cy="321.4" rx="39" ry="20" fill="#afcafc"/><ellipse cx="526.2" cy="228.4" rx="25" ry="30" fill="#f7ac8e"/><ellipse cx="575.2" cy="184.3" rx="15" ry="7" fill="#f5a081"/><ellipse cx="423.4" cy="279.8" rx="12" ry="12" fill="#f7ac8e"/><ellipse cx="700" cy="294.5" rx="10" ry="9" fill="#f29274"/><ellipse cx="717" cy="201.5" rx="6" ry="6" fill="#f29274"/><ellipse cx="673" cy="272.4" rx="25" ry="15" fill="#f5c1a9"/></g><g filter="url(#bz3)"><ellipse cx="285" cy="175" rx="10" ry="10" fill="#b40426"/><ellipse cx="330" cy="285" rx="12" ry="10" fill="#b40426"/><ellipse cx="300" cy="290" rx="6" ry="6" fill="#c0282f"/><ellipse cx="190" cy="262" rx="12" ry="8" fill="#b40426"/><ellipse cx="158" cy="290" rx="10" ry="10" fill="#b40426"/><ellipse cx="130" cy="297" rx="5" ry="5" fill="#cc403a"/><ellipse cx="55" cy="260" rx="4" ry="4" fill="#d65244"/><ellipse cx="305" cy="175" rx="6" ry="6" fill="#445acc"/><ellipse cx="45" cy="265" rx="6" ry="8" fill="#445acc"/><ellipse cx="168" cy="268" rx="8" ry="8" fill="#445acc"/><ellipse cx="148" cy="290" rx="5" ry="5" fill="#4f69d9"/><ellipse cx="275" cy="292" rx="12" ry="10" fill="#445acc"/><ellipse cx="403.9" cy="194.1" rx="6" ry="7" fill="#b40426"/><ellipse cx="423.4" cy="195.1" rx="7" ry="6" fill="#445acc"/><ellipse cx="523.8" cy="199" rx="7" ry="12" fill="#b40426"/><ellipse cx="540.9" cy="223.5" rx="12" ry="10" fill="#b40426"/><ellipse cx="531" cy="212" rx="6" ry="10" fill="#c0282f"/><ellipse cx="538.5" cy="201.5" rx="6" ry="5" fill="#445acc"/><ellipse cx="580" cy="208.8" rx="12" ry="10" fill="#3b4cc0"/><ellipse cx="602.1" cy="206.4" rx="7" ry="5" fill="#445acc"/><ellipse cx="572.7" cy="228.4" rx="6" ry="7" fill="#445acc"/><ellipse cx="518.9" cy="268.5" rx="10" ry="11" fill="#b40426"/><ellipse cx="560.5" cy="268.5" rx="14" ry="10" fill="#b40426"/><ellipse cx="548.2" cy="289.6" rx="9" ry="9" fill="#b40426"/><ellipse cx="501.7" cy="287.1" rx="7" ry="7" fill="#b40426"/><ellipse cx="540.9" cy="272.4" rx="6" ry="6" fill="#445acc"/><ellipse cx="526.2" cy="292" rx="7" ry="6" fill="#445acc"/><ellipse cx="477.3" cy="279.8" rx="7" ry="9" fill="#445acc"/><ellipse cx="450.4" cy="295.9" rx="12" ry="10" fill="#445acc"/><ellipse cx="638.8" cy="255.3" rx="9" ry="7" fill="#b40426"/><ellipse cx="623.1" cy="257.8" rx="5" ry="9" fill="#445acc"/><ellipse cx="607" cy="272.4" rx="4" ry="4" fill="#6485ec"/><ellipse cx="386.7" cy="321.4" rx="6" ry="5" fill="#e0654f"/><ellipse cx="735.7" cy="284.7" rx="4" ry="4" fill="#6485ec"/><ellipse cx="420" cy="265" rx="5" ry="5" fill="#6485ec"/></g></g></g>
</g></g>
<rect x="441.5" y="249.2" width="146" height="90.2" fill="none" stroke="#222" stroke-width="0.4"/>
<path d="M441.5 339.4v1.6M461.78 339.4v1.6M482.06 339.4v1.6M502.33 339.4v1.6M522.61 339.4v1.6M542.89 339.4v1.6M563.17 339.4v1.6M583.44 339.4v1.6M441.5 334.39h-1.6M441.5 324.37h-1.6M441.5 314.34h-1.6M441.5 304.32h-1.6M441.5 294.3h-1.6M441.5 284.28h-1.6M441.5 274.26h-1.6M441.5 264.23h-1.6M441.5 254.21h-1.6" stroke="#222" stroke-width="0.5"/>
<text transform="translate(441.5 344) scale(0.1)" font-size="33.5" text-anchor="middle">0</text>
<text transform="translate(461.78 344) scale(0.1)" font-size="33.5" text-anchor="middle">50</text>
<text transform="translate(482.06 344) scale(0.1)" font-size="33.5" text-anchor="middle">100</text>
<text transform="translate(502.33 344) scale(0.1)" font-size="33.5" text-anchor="middle">150</text>
<text transform="translate(522.61 344) scale(0.1)" font-size="33.5" text-anchor="middle">200</text>
<text transform="translate(542.89 344) scale(0.1)" font-size="33.5" text-anchor="middle">250</text>
<text transform="translate(563.17 344) scale(0.1)" font-size="33.5" text-anchor="middle">300</text>
<text transform="translate(583.44 344) scale(0.1)" font-size="33.5" text-anchor="middle">350</text>
<text transform="translate(439.4 335.54) scale(0.1)" font-size="33.5" text-anchor="end">−80</text>
<text transform="translate(439.4 325.52) scale(0.1)" font-size="33.5" text-anchor="end">−60</text>
<text transform="translate(439.4 315.49) scale(0.1)" font-size="33.5" text-anchor="end">−40</text>
<text transform="translate(439.4 305.47) scale(0.1)" font-size="33.5" text-anchor="end">−20</text>
<text transform="translate(439.4 295.45) scale(0.1)" font-size="33.5" text-anchor="end">0</text>
<text transform="translate(439.4 285.43) scale(0.1)" font-size="33.5" text-anchor="end">20</text>
<text transform="translate(439.4 275.41) scale(0.1)" font-size="33.5" text-anchor="end">40</text>
<text transform="translate(439.4 265.38) scale(0.1)" font-size="33.5" text-anchor="end">60</text>
<text transform="translate(439.4 255.36) scale(0.1)" font-size="33.5" text-anchor="end">80</text>
<text transform="translate(514.5 349.8) scale(0.1)" font-size="46" text-anchor="middle">Longitude</text>
<text transform="translate(430.8 294.3) rotate(-90) scale(0.1)" font-size="46" text-anchor="middle">Latitude</text>
<text transform="translate(514.5 248.1) scale(0.1)" font-size="46" text-anchor="middle">Real CR2151 GONG</text>
<rect x="596.1" y="249.2" width="4.7" height="90.2" fill="url(#cb)"/>
<path d="M596.1 249.2v90.2M600.8 249.2v90.2" stroke="#222" stroke-width="0.5"/>
<path d="M600.8 339.4h1.5M600.8 331.88h1.5M600.8 324.37h1.5M600.8 316.85h1.5M600.8 309.33h1.5M600.8 301.82h1.5M600.8 294.3h1.5M600.8 286.78h1.5M600.8 279.27h1.5M600.8 271.75h1.5M600.8 264.23h1.5M600.8 256.72h1.5M600.8 249.2h1.5" stroke="#222" stroke-width="0.5"/>
<text transform="translate(603 340.9) scale(0.1)" font-size="33.5">−30</text>
<text transform="translate(603 333.38) scale(0.1)" font-size="33.5">−25</text>
<text transform="translate(603 325.87) scale(0.1)" font-size="33.5">−20</text>
<text transform="translate(603 318.35) scale(0.1)" font-size="33.5">−15</text>
<text transform="translate(603 310.83) scale(0.1)" font-size="33.5">−10</text>
<text transform="translate(603 303.32) scale(0.1)" font-size="33.5">−5</text>
<text transform="translate(603 295.8) scale(0.1)" font-size="33.5">0</text>
<text transform="translate(603 288.28) scale(0.1)" font-size="33.5">5</text>
<text transform="translate(603 280.77) scale(0.1)" font-size="33.5">10</text>
<text transform="translate(603 273.25) scale(0.1)" font-size="33.5">15</text>
<text transform="translate(603 265.73) scale(0.1)" font-size="33.5">20</text>
<text transform="translate(603 258.22) scale(0.1)" font-size="33.5">25</text>
<text transform="translate(603 250.7) scale(0.1)" font-size="33.5">30</text>
<text transform="translate(613.7 294.3) rotate(-90) scale(0.1)" font-size="36" text-anchor="middle">B (G)</text>
<g clip-path="url(#c23)"><g transform="translate(646.2 249.2)">
<g transform="translate(-0.2 -1.2) scale(0.19241)"><rect width="764" height="478" fill="url(#g23)"/><g filter="url(#bz12)"><ellipse cx="187.4" cy="231.3" rx="81" ry="65" fill="#edd2c3"/></g><g filter="url(#bz10)"><ellipse cx="114" cy="169" rx="40" ry="30" fill="#f3c7b1"/></g><g filter="url(#bz8)"><ellipse cx="203.7" cy="117" rx="80" ry="15" fill="#cad8ef"/><ellipse cx="269" cy="215" rx="70" ry="30" fill="#c0d4f5" transform="rotate(30 269 215)"/></g><g filter="url(#bz10)"><ellipse cx="203.7" cy="369.8" rx="179" ry="24" fill="#bbd1f8" transform="rotate(-10 203.7 369.8)"/><ellipse cx="566" cy="380" rx="200" ry="25" fill="#bbd1f8"/></g><g filter="url(#bz8)"><ellipse cx="400" cy="200" rx="40" ry="60" fill="#b5cdfa"/><ellipse cx="57" cy="255.7" rx="20" ry="122" fill="#c0d4f5"/></g><g filter="url(#bz4)"><ellipse cx="65.2" cy="263.9" rx="8" ry="30" fill="#86a9fc"/></g><g filter="url(#bz6)"><ellipse cx="12.2" cy="272" rx="16" ry="49" fill="#f7ac8e"/></g><g filter="url(#bz10)"><ellipse cx="561.6" cy="263.9" rx="57" ry="73" fill="#f5c1a9"/></g><g filter="url(#bz5)"><ellipse cx="406.8" cy="280.2" rx="16" ry="50" fill="#f7ac8e" transform="rotate(45 406.8 280.2)"/><ellipse cx="423" cy="321" rx="12" ry="40" fill="#f7b89c" transform="rotate(30 423 321)"/><ellipse cx="350.4" cy="304.6" rx="20" ry="61" fill="#f7ac8e" transform="rotate(45 350.4 304.6)"/></g><g filter="url(#bz6)"><ellipse cx="732.8" cy="296.5" rx="24" ry="49" fill="#f7ac8e"/></g><g filter="url(#bz5)"><ellipse cx="178" cy="288" rx="25" ry="30" fill="#f7b89c"/></g><g filter="url(#bz6)"><ellipse cx="610" cy="190" rx="40" ry="50" fill="#aac7fd" transform="rotate(20 610 190)"/><ellipse cx="473.6" cy="312.8" rx="30" ry="75" fill="#86a9fc" transform="rotate(45 473.6 312.8)"/></g><g filter="url(#bz4)"><ellipse cx="578" cy="166" rx="12" ry="24" fill="#f7ac8e"/></g><g filter="url(#bz3)"><ellipse cx="406.8" cy="166" rx="6" ry="12" fill="#e7745b"/><ellipse cx="423.1" cy="170.2" rx="4" ry="10" fill="#86a9fc"/><ellipse cx="598.3" cy="223.1" rx="10" ry="20" fill="#6f92f3"/><ellipse cx="635" cy="265.5" rx="5" ry="14" fill="#86a9fc"/></g><g filter="url(#bz6)"><ellipse cx="159" cy="296.5" rx="12" ry="18" fill="#f7ac8e"/><ellipse cx="179.3" cy="273.7" rx="13.5" ry="9" fill="#f7ac8e"/><ellipse cx="185.8" cy="288.3" rx="10.5" ry="7.5" fill="#9ebeff"/><ellipse cx="283.6" cy="143.3" rx="15" ry="18" fill="#f7ac8e"/><ellipse cx="304" cy="141.6" rx="12" ry="18" fill="#9ebeff"/><ellipse cx="281.1" cy="320.9" rx="15" ry="19.5" fill="#9ebeff"/><ellipse cx="330" cy="312.8" rx="15" ry="19.5" fill="#f7ac8e"/><ellipse cx="527.4" cy="174.2" rx="15" ry="34.5" fill="#f7ac8e"/><ellipse cx="547" cy="174.2" rx="12" ry="18" fill="#9ebeff"/><ellipse cx="565.7" cy="219" rx="18" ry="36" fill="#f7ac8e"/><ellipse cx="618.7" cy="182.4" rx="24" ry="34.5" fill="#9ebeff" transform="rotate(20 618.7 182.4)"/><ellipse cx="653" cy="257.4" rx="12" ry="24" fill="#f7ac8e"/><ellipse cx="527.4" cy="284.2" rx="16.5" ry="36" fill="#f7ac8e"/><ellipse cx="568.1" cy="288.3" rx="18" ry="30" fill="#f7ac8e"/><ellipse cx="553.5" cy="316.8" rx="15" ry="22.5" fill="#f7ac8e"/><ellipse cx="545.3" cy="288.3" rx="9" ry="30" fill="#9ebeff"/><ellipse cx="529" cy="325" rx="12" ry="18" fill="#9ebeff"/><ellipse cx="473.6" cy="312.8" rx="27" ry="73.5" fill="#9ebeff" transform="rotate(45 473.6 312.8)"/></g><g filter="url(#bz2)"><ellipse cx="159" cy="296.5" rx="8" ry="12" fill="#c0282f"/><ellipse cx="179.3" cy="273.7" rx="9" ry="6" fill="#c0282f"/><ellipse cx="185.8" cy="288.3" rx="7" ry="5" fill="#4f69d9"/><ellipse cx="167" cy="284.2" rx="6" ry="5" fill="#5977e3"/></g><g filter="url(#bz4)"><ellipse cx="283.6" cy="143.3" rx="10" ry="12" fill="#b40426"/><ellipse cx="304" cy="141.6" rx="8" ry="12" fill="#4961d2"/><ellipse cx="281.1" cy="320.9" rx="10" ry="13" fill="#3f53c6"/><ellipse cx="330" cy="312.8" rx="10" ry="13" fill="#b40426"/><ellipse cx="301.5" cy="316.8" rx="5" ry="8" fill="#e0654f"/><ellipse cx="527.4" cy="174.2" rx="10" ry="23" fill="#b40426"/><ellipse cx="547" cy="174.2" rx="8" ry="12" fill="#445acc"/><ellipse cx="565.7" cy="219" rx="12" ry="24" fill="#b40426"/><ellipse cx="618.7" cy="182.4" rx="16" ry="23" fill="#4961d2" transform="rotate(20 618.7 182.4)"/><ellipse cx="653" cy="257.4" rx="8" ry="16" fill="#cc403a"/><ellipse cx="527.4" cy="284.2" rx="11" ry="24" fill="#b40426"/><ellipse cx="568.1" cy="288.3" rx="12" ry="20" fill="#b40426"/><ellipse cx="553.5" cy="316.8" rx="10" ry="15" fill="#b40426"/><ellipse cx="545.3" cy="288.3" rx="6" ry="20" fill="#4f69d9"/><ellipse cx="529" cy="325" rx="8" ry="12" fill="#445acc"/><ellipse cx="473.6" cy="312.8" rx="18" ry="49" fill="#445acc" transform="rotate(45 473.6 312.8)"/></g></g>
</g></g>
<path d="M646 249.2h146.5M646 339.4h146.5" stroke="#222" stroke-width="0.4"/>
<path d="M646.2 339.4v1.6M666.49 339.4v1.6M686.78 339.4v1.6M707.08 339.4v1.6M727.37 339.4v1.6M747.66 339.4v1.6M767.95 339.4v1.6M788.24 339.4v1.6M646.2 334.39h-1.6M646.2 324.37h-1.6M646.2 314.34h-1.6M646.2 304.32h-1.6M646.2 294.3h-1.6M646.2 284.28h-1.6M646.2 274.26h-1.6M646.2 264.23h-1.6M646.2 254.21h-1.6" stroke="#222" stroke-width="0.5"/>
<text transform="translate(646.2 344) scale(0.1)" font-size="33.5" text-anchor="middle">0</text>
<text transform="translate(666.49 344) scale(0.1)" font-size="33.5" text-anchor="middle">50</text>
<text transform="translate(686.78 344) scale(0.1)" font-size="33.5" text-anchor="middle">100</text>
<text transform="translate(707.08 344) scale(0.1)" font-size="33.5" text-anchor="middle">150</text>
<text transform="translate(727.37 344) scale(0.1)" font-size="33.5" text-anchor="middle">200</text>
<text transform="translate(747.66 344) scale(0.1)" font-size="33.5" text-anchor="middle">250</text>
<text transform="translate(767.95 344) scale(0.1)" font-size="33.5" text-anchor="middle">300</text>
<text transform="translate(788.24 344) scale(0.1)" font-size="33.5" text-anchor="middle">350</text>
<text transform="translate(644.1 335.54) scale(0.1)" font-size="33.5" text-anchor="end">−80</text>
<text transform="translate(644.1 325.52) scale(0.1)" font-size="33.5" text-anchor="end">−60</text>
<text transform="translate(644.1 315.49) scale(0.1)" font-size="33.5" text-anchor="end">−40</text>
<text transform="translate(644.1 305.47) scale(0.1)" font-size="33.5" text-anchor="end">−20</text>
<text transform="translate(644.1 295.45) scale(0.1)" font-size="33.5" text-anchor="end">0</text>
<text transform="translate(644.1 285.43) scale(0.1)" font-size="33.5" text-anchor="end">20</text>
<text transform="translate(644.1 275.41) scale(0.1)" font-size="33.5" text-anchor="end">40</text>
<text transform="translate(644.1 265.38) scale(0.1)" font-size="33.5" text-anchor="end">60</text>
<text transform="translate(644.1 255.36) scale(0.1)" font-size="33.5" text-anchor="end">80</text>
<text transform="translate(719.25 349.8) scale(0.1)" font-size="46" text-anchor="middle">Longitude</text>
<text transform="translate(635.5 294.3) rotate(-90) scale(0.1)" font-size="46" text-anchor="middle">Latitude</text>
<text transform="translate(719.25 248.1) scale(0.1)" font-size="46" text-anchor="middle">Synthetic CR2151</text>
<rect x="801.1" y="249.2" width="4.7" height="90.2" fill="url(#cb)"/>
<path d="M801.1 249.2v90.2M805.8 249.2v90.2" stroke="#222" stroke-width="0.5"/>
<path d="M805.8 339.4h1.5M805.8 331.88h1.5M805.8 324.37h1.5M805.8 316.85h1.5M805.8 309.33h1.5M805.8 301.82h1.5M805.8 294.3h1.5M805.8 286.78h1.5M805.8 279.27h1.5M805.8 271.75h1.5M805.8 264.23h1.5M805.8 256.72h1.5M805.8 249.2h1.5" stroke="#222" stroke-width="0.5"/>
<text transform="translate(808 340.9) scale(0.1)" font-size="33.5">−30</text>
<text transform="translate(808 333.38) scale(0.1)" font-size="33.5">−25</text>
<text transform="translate(808 325.87) scale(0.1)" font-size="33.5">−20</text>
<text transform="translate(808 318.35) scale(0.1)" font-size="33.5">−15</text>
<text transform="translate(808 310.83) scale(0.1)" font-size="33.5">−10</text>
<text transform="translate(808 303.32) scale(0.1)" font-size="33.5">−5</text>
<text transform="translate(808 295.8) scale(0.1)" font-size="33.5">0</text>
<text transform="translate(808 288.28) scale(0.1)" font-size="33.5">5</text>
<text transform="translate(808 280.77) scale(0.1)" font-size="33.5">10</text>
<text transform="translate(808 273.25) scale(0.1)" font-size="33.5">15</text>
<text transform="translate(808 265.73) scale(0.1)" font-size="33.5">20</text>
<text transform="translate(808 258.22) scale(0.1)" font-size="33.5">25</text>
<text transform="translate(808 250.7) scale(0.1)" font-size="33.5">30</text>
<text transform="translate(818.7 294.3) rotate(-90) scale(0.1)" font-size="36" text-anchor="middle">B (G)</text>
<g clip-path="url(#c30)"><g transform="translate(29.1 366.5)">
<g transform="translate(-0.1 -0.5) scale(0.19241)"><rect width="764" height="478" fill="url(#g30)"/><g mask="url(#k30_0)"><rect y="60" width="764" height="360" filter="url(#m30_0)"/></g><g mask="url(#k30_1)"><rect y="15" width="764" height="95" filter="url(#m30_1)"/></g><g mask="url(#k30_2)"><rect y="385" width="764" height="87" filter="url(#m30_2)"/></g><g filter="url(#d30)"><g filter="url(#bz3)"><ellipse cx="36.8" cy="30" rx="18" ry="4" fill="#f29274"/><ellipse cx="115" cy="30" rx="20" ry="4" fill="#f29274"/><ellipse cx="207" cy="30" rx="22" ry="4" fill="#f29274"/><ellipse cx="276" cy="32" rx="15" ry="4" fill="#f5a081"/><ellipse cx="327" cy="32" rx="15" ry="4" fill="#f29274"/><ellipse cx="373" cy="32" rx="15" ry="5" fill="#e0654f"/><ellipse cx="432.6" cy="30" rx="15" ry="4" fill="#f29274"/><ellipse cx="478.6" cy="35" rx="15" ry="4" fill="#f5a081"/><ellipse cx="515.5" cy="35" rx="15" ry="4" fill="#f29274"/><ellipse cx="580" cy="38" rx="12" ry="4" fill="#e0654f"/><ellipse cx="653.5" cy="35" rx="20" ry="4" fill="#f29274"/><ellipse cx="699.6" cy="35" rx="15" ry="4" fill="#f5a081"/><ellipse cx="741" cy="35" rx="15" ry="4" fill="#f29274"/><ellipse cx="18.4" cy="44" rx="15" ry="5" fill="#7b9ff9"/><ellipse cx="82.8" cy="37" rx="15" ry="5" fill="#86a9fc"/><ellipse cx="147" cy="44" rx="15" ry="5" fill="#7b9ff9"/><ellipse cx="230" cy="44" rx="18" ry="5" fill="#7b9ff9"/><ellipse cx="303.7" cy="41" rx="15" ry="5" fill="#86a9fc"/><ellipse cx="386.6" cy="41" rx="18" ry="5" fill="#7b9ff9"/><ellipse cx="469.4" cy="44" rx="15" ry="6" fill="#5977e3"/><ellipse cx="552" cy="41" rx="15" ry="5" fill="#7b9ff9"/><ellipse cx="626" cy="41" rx="15" ry="5" fill="#86a9fc"/><ellipse cx="727" cy="44" rx="15" ry="5" fill="#7b9ff9"/><ellipse cx="184" cy="69" rx="10" ry="5" fill="#86a9fc"/><ellipse cx="276" cy="64" rx="10" ry="5" fill="#86a9fc"/><ellipse cx="368" cy="60" rx="10" ry="5" fill="#86a9fc"/><ellipse cx="451" cy="64" rx="10" ry="5" fill="#7b9ff9"/><ellipse cx="478.6" cy="69" rx="10" ry="5" fill="#6f92f3"/><ellipse cx="55" cy="458.7" rx="55" ry="5" fill="#f29274"/><ellipse cx="18.4" cy="435.6" rx="15" ry="5" fill="#f29274"/><ellipse cx="92" cy="421.8" rx="12" ry="5" fill="#f29274"/><ellipse cx="128.9" cy="440.3" rx="20" ry="4" fill="#f5a081"/><ellipse cx="230" cy="421.8" rx="10" ry="5" fill="#f29274"/><ellipse cx="257.7" cy="440.3" rx="12" ry="5" fill="#f5a081"/><ellipse cx="303.8" cy="444.9" rx="15" ry="5" fill="#f29274"/><ellipse cx="432.6" cy="440.3" rx="25" ry="6" fill="#e7745b"/><ellipse cx="506" cy="435.6" rx="15" ry="5" fill="#f5a081"/><ellipse cx="580" cy="431" rx="15" ry="5" fill="#f29274"/><ellipse cx="662.8" cy="421.8" rx="15" ry="5" fill="#f29274"/><ellipse cx="690" cy="454" rx="60" ry="6" fill="#e0654f"/><ellipse cx="727" cy="435.6" rx="15" ry="5" fill="#ee8468"/><ellipse cx="745.6" cy="417.2" rx="10" ry="5" fill="#f29274"/><ellipse cx="267" cy="408" rx="8" ry="5" fill="#f5a081"/><ellipse cx="377.4" cy="463.3" rx="30" ry="4" fill="#93b5fe"/><ellipse cx="570.7" cy="454" rx="20" ry="4" fill="#86a9fc"/><ellipse cx="414" cy="385" rx="8" ry="5" fill="#9ebeff"/></g><g filter="url(#bz6)"><ellipse cx="490" cy="275" rx="20" ry="15" fill="#f7b89c"/><ellipse cx="425" cy="295" rx="10" ry="10" fill="#9ebeff"/><ellipse cx="350" cy="320" rx="20" ry="10" fill="#f5c1a9"/></g><g filter="url(#bz3)"><ellipse cx="748" cy="165" rx="6" ry="6" fill="#c0282f"/><ellipse cx="455" cy="210" rx="7" ry="6" fill="#c0282f"/><ellipse cx="445" cy="220" rx="12" ry="5" fill="#4f69d9"/><ellipse cx="580" cy="200" rx="6" ry="6" fill="#cc403a"/><ellipse cx="497" cy="260" rx="10" ry="9" fill="#b40426"/><ellipse cx="518" cy="260" rx="7" ry="7" fill="#445acc"/><ellipse cx="556" cy="260" rx="6" ry="6" fill="#cc403a"/><ellipse cx="575" cy="265" rx="10" ry="8" fill="#445acc"/><ellipse cx="603" cy="265" rx="8" ry="6" fill="#5977e3"/><ellipse cx="180" cy="318" rx="6" ry="5" fill="#445acc"/><ellipse cx="188" cy="316" rx="5" ry="5" fill="#c0282f"/></g></g></g>
</g></g>
<path d="M28.9 366.5h146.5M28.9 457.4h146.5" stroke="#222" stroke-width="0.4"/>
<path d="M29.1 457.4v1.6M49.39 457.4v1.6M69.68 457.4v1.6M89.97 457.4v1.6M110.27 457.4v1.6M130.56 457.4v1.6M150.85 457.4v1.6M171.14 457.4v1.6M29.1 452.35h-1.6M29.1 442.25h-1.6M29.1 432.15h-1.6M29.1 422.05h-1.6M29.1 411.95h-1.6M29.1 401.85h-1.6M29.1 391.75h-1.6M29.1 381.65h-1.6M29.1 371.55h-1.6" stroke="#222" stroke-width="0.5"/>
<text transform="translate(29.1 462) scale(0.1)" font-size="33.5" text-anchor="middle">0</text>
<text transform="translate(49.39 462) scale(0.1)" font-size="33.5" text-anchor="middle">50</text>
<text transform="translate(69.68 462) scale(0.1)" font-size="33.5" text-anchor="middle">100</text>
<text transform="translate(89.97 462) scale(0.1)" font-size="33.5" text-anchor="middle">150</text>
<text transform="translate(110.27 462) scale(0.1)" font-size="33.5" text-anchor="middle">200</text>
<text transform="translate(130.56 462) scale(0.1)" font-size="33.5" text-anchor="middle">250</text>
<text transform="translate(150.85 462) scale(0.1)" font-size="33.5" text-anchor="middle">300</text>
<text transform="translate(171.14 462) scale(0.1)" font-size="33.5" text-anchor="middle">350</text>
<text transform="translate(27 453.5) scale(0.1)" font-size="33.5" text-anchor="end">−80</text>
<text transform="translate(27 443.4) scale(0.1)" font-size="33.5" text-anchor="end">−60</text>
<text transform="translate(27 433.3) scale(0.1)" font-size="33.5" text-anchor="end">−40</text>
<text transform="translate(27 423.2) scale(0.1)" font-size="33.5" text-anchor="end">−20</text>
<text transform="translate(27 413.1) scale(0.1)" font-size="33.5" text-anchor="end">0</text>
<text transform="translate(27 403) scale(0.1)" font-size="33.5" text-anchor="end">20</text>
<text transform="translate(27 392.9) scale(0.1)" font-size="33.5" text-anchor="end">40</text>
<text transform="translate(27 382.8) scale(0.1)" font-size="33.5" text-anchor="end">60</text>
<text transform="translate(27 372.7) scale(0.1)" font-size="33.5" text-anchor="end">80</text>
<text transform="translate(102.15 467.8) scale(0.1)" font-size="46" text-anchor="middle">Longitude</text>
<text transform="translate(18.4 411.95) rotate(-90) scale(0.1)" font-size="46" text-anchor="middle">Latitude</text>
<text transform="translate(102.15 365.4) scale(0.1)" font-size="46" text-anchor="middle">Real CR2068 MDI</text>
<rect x="184.3" y="366.5" width="4.7" height="90.9" fill="url(#cb)"/>
<path d="M184.3 366.5v90.9M189 366.5v90.9" stroke="#222" stroke-width="0.5"/>
<path d="M189 457.4h1.5M189 449.82h1.5M189 442.25h1.5M189 434.68h1.5M189 427.1h1.5M189 419.52h1.5M189 411.95h1.5M189 404.38h1.5M189 396.8h1.5M189 389.23h1.5M189 381.65h1.5M189 374.07h1.5M189 366.5h1.5" stroke="#222" stroke-width="0.5"/>
<text transform="translate(191.2 458.9) scale(0.1)" font-size="33.5">−30</text>
<text transform="translate(191.2 451.32) scale(0.1)" font-size="33.5">−25</text>
<text transform="translate(191.2 443.75) scale(0.1)" font-size="33.5">−20</text>
<text transform="translate(191.2 436.18) scale(0.1)" font-size="33.5">−15</text>
<text transform="translate(191.2 428.6) scale(0.1)" font-size="33.5">−10</text>
<text transform="translate(191.2 421.02) scale(0.1)" font-size="33.5">−5</text>
<text transform="translate(191.2 413.45) scale(0.1)" font-size="33.5">0</text>
<text transform="translate(191.2 405.88) scale(0.1)" font-size="33.5">5</text>
<text transform="translate(191.2 398.3) scale(0.1)" font-size="33.5">10</text>
<text transform="translate(191.2 390.73) scale(0.1)" font-size="33.5">15</text>
<text transform="translate(191.2 383.15) scale(0.1)" font-size="33.5">20</text>
<text transform="translate(191.2 375.57) scale(0.1)" font-size="33.5">25</text>
<text transform="translate(191.2 368) scale(0.1)" font-size="33.5">30</text>
<text transform="translate(201.9 411.95) rotate(-90) scale(0.1)" font-size="36" text-anchor="middle">B (G)</text>
<g clip-path="url(#c31)"><g transform="translate(234.5 366.5)">
<g transform="translate(-0.5 -0.5) scale(0.19241)"><rect width="764" height="478" fill="url(#g31)"/><g filter="url(#bz12)"><ellipse cx="300" cy="200" rx="150" ry="60" fill="#e5d8d1" transform="rotate(15 300 200)"/></g><g filter="url(#bz10)"><ellipse cx="650" cy="180" rx="80" ry="30" fill="#e5d8d1"/><ellipse cx="100" cy="300" rx="100" ry="20" fill="#e5d8d1" transform="rotate(-10 100 300)"/><ellipse cx="600" cy="330" rx="100" ry="25" fill="#e5d8d1" transform="rotate(-15 600 330)"/></g><g filter="url(#bz5)"><ellipse cx="525" cy="310" rx="14" ry="32" fill="#f6bda2" transform="rotate(30 525 310)"/><ellipse cx="588" cy="280" rx="14" ry="45" fill="#afcafc" transform="rotate(20 588 280)"/></g><g filter="url(#bz3)"><ellipse cx="420" cy="280" rx="6" ry="7" fill="#c0282f"/><ellipse cx="430" cy="287" rx="6" ry="6" fill="#445acc"/><ellipse cx="483" cy="272" rx="10" ry="14" fill="#b40426"/><ellipse cx="502" cy="268" rx="10" ry="10" fill="#445acc"/><ellipse cx="538" cy="270" rx="8" ry="16" fill="#b40426"/><ellipse cx="552" cy="270" rx="8" ry="12" fill="#445acc"/></g></g>
</g></g>
<rect x="234.5" y="366.5" width="145.1" height="90.9" fill="none" stroke="#222" stroke-width="0.4"/>
<path d="M234.5 457.4v1.6M254.65 457.4v1.6M274.81 457.4v1.6M294.96 457.4v1.6M315.11 457.4v1.6M335.26 457.4v1.6M355.42 457.4v1.6M375.57 457.4v1.6M234.5 452.35h-1.6M234.5 442.25h-1.6M234.5 432.15h-1.6M234.5 422.05h-1.6M234.5 411.95h-1.6M234.5 401.85h-1.6M234.5 391.75h-1.6M234.5 381.65h-1.6M234.5 371.55h-1.6" stroke="#222" stroke-width="0.5"/>
<text transform="translate(234.5 462) scale(0.1)" font-size="33.5" text-anchor="middle">0</text>
<text transform="translate(254.65 462) scale(0.1)" font-size="33.5" text-anchor="middle">50</text>
<text transform="translate(274.81 462) scale(0.1)" font-size="33.5" text-anchor="middle">100</text>
<text transform="translate(294.96 462) scale(0.1)" font-size="33.5" text-anchor="middle">150</text>
<text transform="translate(315.11 462) scale(0.1)" font-size="33.5" text-anchor="middle">200</text>
<text transform="translate(335.26 462) scale(0.1)" font-size="33.5" text-anchor="middle">250</text>
<text transform="translate(355.42 462) scale(0.1)" font-size="33.5" text-anchor="middle">300</text>
<text transform="translate(375.57 462) scale(0.1)" font-size="33.5" text-anchor="middle">350</text>
<text transform="translate(232.4 453.5) scale(0.1)" font-size="33.5" text-anchor="end">−80</text>
<text transform="translate(232.4 443.4) scale(0.1)" font-size="33.5" text-anchor="end">−60</text>
<text transform="translate(232.4 433.3) scale(0.1)" font-size="33.5" text-anchor="end">−40</text>
<text transform="translate(232.4 423.2) scale(0.1)" font-size="33.5" text-anchor="end">−20</text>
<text transform="translate(232.4 413.1) scale(0.1)" font-size="33.5" text-anchor="end">0</text>
<text transform="translate(232.4 403) scale(0.1)" font-size="33.5" text-anchor="end">20</text>
<text transform="translate(232.4 392.9) scale(0.1)" font-size="33.5" text-anchor="end">40</text>
<text transform="translate(232.4 382.8) scale(0.1)" font-size="33.5" text-anchor="end">60</text>
<text transform="translate(232.4 372.7) scale(0.1)" font-size="33.5" text-anchor="end">80</text>
<text transform="translate(307.05 467.8) scale(0.1)" font-size="46" text-anchor="middle">Longitude</text>
<text transform="translate(223.8 411.95) rotate(-90) scale(0.1)" font-size="46" text-anchor="middle">Latitude</text>
<text transform="translate(307.05 365.4) scale(0.1)" font-size="46" text-anchor="middle">Synthetic CR2068</text>
<rect x="388.8" y="366.5" width="4.7" height="90.9" fill="url(#cb)"/>
<path d="M388.8 366.5v90.9M393.5 366.5v90.9" stroke="#222" stroke-width="0.5"/>
<path d="M393.5 457.4h1.5M393.5 449.82h1.5M393.5 442.25h1.5M393.5 434.68h1.5M393.5 427.1h1.5M393.5 419.52h1.5M393.5 411.95h1.5M393.5 404.38h1.5M393.5 396.8h1.5M393.5 389.23h1.5M393.5 381.65h1.5M393.5 374.07h1.5M393.5 366.5h1.5" stroke="#222" stroke-width="0.5"/>
<text transform="translate(395.7 458.9) scale(0.1)" font-size="33.5">−30</text>
<text transform="translate(395.7 451.32) scale(0.1)" font-size="33.5">−25</text>
<text transform="translate(395.7 443.75) scale(0.1)" font-size="33.5">−20</text>
<text transform="translate(395.7 436.18) scale(0.1)" font-size="33.5">−15</text>
<text transform="translate(395.7 428.6) scale(0.1)" font-size="33.5">−10</text>
<text transform="translate(395.7 421.02) scale(0.1)" font-size="33.5">−5</text>
<text transform="translate(395.7 413.45) scale(0.1)" font-size="33.5">0</text>
<text transform="translate(395.7 405.88) scale(0.1)" font-size="33.5">5</text>
<text transform="translate(395.7 398.3) scale(0.1)" font-size="33.5">10</text>
<text transform="translate(395.7 390.73) scale(0.1)" font-size="33.5">15</text>
<text transform="translate(395.7 383.15) scale(0.1)" font-size="33.5">20</text>
<text transform="translate(395.7 375.57) scale(0.1)" font-size="33.5">25</text>
<text transform="translate(395.7 368) scale(0.1)" font-size="33.5">30</text>
<text transform="translate(406.4 411.95) rotate(-90) scale(0.1)" font-size="36" text-anchor="middle">B (G)</text>
<g clip-path="url(#c32)"><g transform="translate(441.5 366.5)">
<g transform="translate(-0.5 -0.5) scale(0.19241)"><rect width="764" height="478" fill="url(#g32)"/><rect y="20" width="764" height="450" filter="url(#m32_0)"/><g mask="url(#k32_1)"><rect y="130" width="764" height="220" filter="url(#m32_1)"/></g><g filter="url(#d32)"><g filter="url(#bz6)"><ellipse cx="310" cy="320" rx="40" ry="15" fill="#9ebeff"/><ellipse cx="230" cy="400" rx="60" ry="5" fill="#aac7fd"/><ellipse cx="650" cy="190" rx="20" ry="20" fill="#f7ac8e"/><ellipse cx="360" cy="250" rx="10" ry="8" fill="#f5a081"/><ellipse cx="100" cy="220" rx="30" ry="20" fill="#f5c1a9"/><ellipse cx="500" cy="330" rx="30" ry="10" fill="#f5c1a9"/><ellipse cx="650" cy="270" rx="30" ry="25" fill="#f5c1a9"/></g><g filter="url(#bz3)"><ellipse cx="18" cy="292" rx="16" ry="12" fill="#b40426"/><ellipse cx="60" cy="278" rx="20" ry="8" fill="#e7745b" transform="rotate(-15 60 278)"/><ellipse cx="95" cy="265" rx="6" ry="6" fill="#cc403a"/><ellipse cx="18" cy="187" rx="4" ry="5" fill="#d65244"/><ellipse cx="160" cy="195" rx="10" ry="8" fill="#c0282f"/><ellipse cx="198" cy="182" rx="10" ry="10" fill="#b40426"/><ellipse cx="205" cy="220" rx="7" ry="12" fill="#b40426"/><ellipse cx="258" cy="203" rx="16" ry="18" fill="#b40426"/><ellipse cx="270" cy="222" rx="8" ry="6" fill="#cc403a"/><ellipse cx="158" cy="262" rx="12" ry="10" fill="#b40426"/><ellipse cx="160" cy="278" rx="5" ry="5" fill="#cc403a"/></g><g filter="url(#bz6)"><ellipse cx="215" cy="295" rx="6" ry="5" fill="#f29274"/><ellipse cx="248" cy="272" rx="6" ry="8" fill="#f29274"/></g><g filter="url(#bz3)"><ellipse cx="315" cy="243" rx="6" ry="6" fill="#c0282f"/><ellipse cx="358" cy="230" rx="5" ry="5" fill="#d65244"/><ellipse cx="432" cy="215" rx="5" ry="5" fill="#cc403a"/><ellipse cx="440" cy="268" rx="10" ry="14" fill="#b40426"/><ellipse cx="430" cy="290" rx="6" ry="6" fill="#c0282f"/><ellipse cx="488" cy="272" rx="8" ry="10" fill="#cc403a"/><ellipse cx="575" cy="262" rx="4" ry="4" fill="#d65244"/><ellipse cx="632" cy="292" rx="6" ry="6" fill="#c0282f"/><ellipse cx="683" cy="185" rx="15" ry="10" fill="#b40426"/><ellipse cx="685" cy="218" rx="10" ry="12" fill="#b40426"/><ellipse cx="35" cy="198" rx="12" ry="10" fill="#445acc"/><ellipse cx="48" cy="250" rx="8" ry="12" fill="#6485ec"/><ellipse cx="130" cy="262" rx="8" ry="10" fill="#5977e3"/><ellipse cx="175" cy="195" rx="5" ry="5" fill="#4f69d9"/><ellipse cx="222" cy="192" rx="10" ry="25" fill="#3b4cc0"/><ellipse cx="298" cy="200" rx="22" ry="15" fill="#3b4cc0"/><ellipse cx="305" cy="248" rx="5" ry="5" fill="#4f69d9"/><ellipse cx="398" cy="285" rx="16" ry="10" fill="#445acc"/><ellipse cx="420" cy="280" rx="5" ry="5" fill="#4f69d9"/><ellipse cx="565" cy="262" rx="4" ry="4" fill="#5977e3"/><ellipse cx="700" cy="178" rx="5" ry="4" fill="#4f69d9"/><ellipse cx="722" cy="218" rx="6" ry="6" fill="#4f69d9"/><ellipse cx="748" cy="298" rx="10" ry="18" fill="#3b4cc0"/></g></g></g>
</g></g>
<rect x="441.5" y="366.5" width="146" height="90.9" fill="none" stroke="#222" stroke-width="0.4"/>
<path d="M441.5 457.4v1.6M461.78 457.4v1.6M482.06 457.4v1.6M502.33 457.4v1.6M522.61 457.4v1.6M542.89 457.4v1.6M563.17 457.4v1.6M583.44 457.4v1.6M441.5 452.35h-1.6M441.5 442.25h-1.6M441.5 432.15h-1.6M441.5 422.05h-1.6M441.5 411.95h-1.6M441.5 401.85h-1.6M441.5 391.75h-1.6M441.5 381.65h-1.6M441.5 371.55h-1.6" stroke="#222" stroke-width="0.5"/>
<text transform="translate(441.5 462) scale(0.1)" font-size="33.5" text-anchor="middle">0</text>
<text transform="translate(461.78 462) scale(0.1)" font-size="33.5" text-anchor="middle">50</text>
<text transform="translate(482.06 462) scale(0.1)" font-size="33.5" text-anchor="middle">100</text>
<text transform="translate(502.33 462) scale(0.1)" font-size="33.5" text-anchor="middle">150</text>
<text transform="translate(522.61 462) scale(0.1)" font-size="33.5" text-anchor="middle">200</text>
<text transform="translate(542.89 462) scale(0.1)" font-size="33.5" text-anchor="middle">250</text>
<text transform="translate(563.17 462) scale(0.1)" font-size="33.5" text-anchor="middle">300</text>
<text transform="translate(583.44 462) scale(0.1)" font-size="33.5" text-anchor="middle">350</text>
<text transform="translate(439.4 453.5) scale(0.1)" font-size="33.5" text-anchor="end">−80</text>
<text transform="translate(439.4 443.4) scale(0.1)" font-size="33.5" text-anchor="end">−60</text>
<text transform="translate(439.4 433.3) scale(0.1)" font-size="33.5" text-anchor="end">−40</text>
<text transform="translate(439.4 423.2) scale(0.1)" font-size="33.5" text-anchor="end">−20</text>
<text transform="translate(439.4 413.1) scale(0.1)" font-size="33.5" text-anchor="end">0</text>
<text transform="translate(439.4 403) scale(0.1)" font-size="33.5" text-anchor="end">20</text>
<text transform="translate(439.4 392.9) scale(0.1)" font-size="33.5" text-anchor="end">40</text>
<text transform="translate(439.4 382.8) scale(0.1)" font-size="33.5" text-anchor="end">60</text>
<text transform="translate(439.4 372.7) scale(0.1)" font-size="33.5" text-anchor="end">80</text>
<text transform="translate(514.5 467.8) scale(0.1)" font-size="46" text-anchor="middle">Longitude</text>
<text transform="translate(430.8 411.95) rotate(-90) scale(0.1)" font-size="46" text-anchor="middle">Latitude</text>
<text transform="translate(514.5 365.4) scale(0.1)" font-size="46" text-anchor="middle">Real CR2184 GONG</text>
<rect x="596.1" y="366.5" width="4.7" height="90.9" fill="url(#cb)"/>
<path d="M596.1 366.5v90.9M600.8 366.5v90.9" stroke="#222" stroke-width="0.5"/>
<path d="M600.8 457.4h1.5M600.8 449.82h1.5M600.8 442.25h1.5M600.8 434.68h1.5M600.8 427.1h1.5M600.8 419.52h1.5M600.8 411.95h1.5M600.8 404.38h1.5M600.8 396.8h1.5M600.8 389.23h1.5M600.8 381.65h1.5M600.8 374.07h1.5M600.8 366.5h1.5" stroke="#222" stroke-width="0.5"/>
<text transform="translate(603 458.9) scale(0.1)" font-size="33.5">−30</text>
<text transform="translate(603 451.32) scale(0.1)" font-size="33.5">−25</text>
<text transform="translate(603 443.75) scale(0.1)" font-size="33.5">−20</text>
<text transform="translate(603 436.18) scale(0.1)" font-size="33.5">−15</text>
<text transform="translate(603 428.6) scale(0.1)" font-size="33.5">−10</text>
<text transform="translate(603 421.02) scale(0.1)" font-size="33.5">−5</text>
<text transform="translate(603 413.45) scale(0.1)" font-size="33.5">0</text>
<text transform="translate(603 405.88) scale(0.1)" font-size="33.5">5</text>
<text transform="translate(603 398.3) scale(0.1)" font-size="33.5">10</text>
<text transform="translate(603 390.73) scale(0.1)" font-size="33.5">15</text>
<text transform="translate(603 383.15) scale(0.1)" font-size="33.5">20</text>
<text transform="translate(603 375.57) scale(0.1)" font-size="33.5">25</text>
<text transform="translate(603 368) scale(0.1)" font-size="33.5">30</text>
<text transform="translate(613.7 411.95) rotate(-90) scale(0.1)" font-size="36" text-anchor="middle">B (G)</text>
<g clip-path="url(#c33)"><g transform="translate(646.2 366.5)">
<g transform="translate(-0.2 -0.5) scale(0.19241)"><rect width="764" height="478" fill="url(#g33)"/><g filter="url(#bz15)"><ellipse cx="380" cy="150" rx="150" ry="60" fill="#e9d5cb"/></g><g filter="url(#bz8)"><ellipse cx="520.9" cy="169" rx="81" ry="33" fill="#e9d5cb" transform="rotate(20 520.9 169)"/></g><g filter="url(#bz6)"><ellipse cx="326" cy="372.8" rx="81" ry="20" fill="#aac7fd" transform="rotate(-20 326 372.8)"/></g><g filter="url(#bz5)"><ellipse cx="146.7" cy="336.1" rx="30" ry="10" fill="#aac7fd" transform="rotate(-30 146.7 336.1)"/></g><g filter="url(#bz6)"><ellipse cx="24.4" cy="209.8" rx="24" ry="81" fill="#f5a081"/></g><g filter="url(#bz4)"><ellipse cx="28.5" cy="197.6" rx="15" ry="41" fill="#e7745b"/><ellipse cx="12.2" cy="315.7" rx="8" ry="24" fill="#ee8468"/></g><g filter="url(#bz5)"><ellipse cx="73.3" cy="209.8" rx="24" ry="61" fill="#86a9fc" transform="rotate(-10 73.3 209.8)"/></g><g filter="url(#bz4)"><ellipse cx="81.5" cy="209.8" rx="12" ry="37" fill="#5977e3" transform="rotate(-10 81.5 209.8)"/></g><g filter="url(#bz5)"><ellipse cx="118.2" cy="177.2" rx="20" ry="77" fill="#f7ac8e" transform="rotate(-15 118.2 177.2)"/></g><g filter="url(#bz3)"><ellipse cx="106" cy="136.4" rx="10" ry="24" fill="#ee8468" transform="rotate(-15 106 136.4)"/><ellipse cx="138.5" cy="226" rx="10" ry="30" fill="#f5a081"/></g><g filter="url(#bz4)"><ellipse cx="154.8" cy="136.4" rx="12" ry="24" fill="#93b5fe"/></g><g filter="url(#bz5)"><ellipse cx="130.4" cy="287.2" rx="33" ry="24" fill="#f7b89c"/><ellipse cx="236.3" cy="283.1" rx="20" ry="37" fill="#f7ac8e" transform="rotate(30 236.3 283.1)"/><ellipse cx="57" cy="319.8" rx="20" ry="24" fill="#f7b89c"/></g><g filter="url(#bz6)"><ellipse cx="472" cy="291.3" rx="40" ry="33" fill="#f7b89c"/><ellipse cx="398.6" cy="323.9" rx="30" ry="50" fill="#93b5fe"/><ellipse cx="586" cy="291.3" rx="130" ry="24" fill="#aac7fd" transform="rotate(-33 586 291.3)"/></g><g filter="url(#bz4)"><ellipse cx="578" cy="307.6" rx="65" ry="12" fill="#7b9ff9" transform="rotate(-30 578 307.6)"/></g><g filter="url(#bz6)"><ellipse cx="635" cy="340" rx="147" ry="16" fill="#f7b89c" transform="rotate(-20 635 340)"/><ellipse cx="732.8" cy="169" rx="28" ry="57" fill="#f5a081"/></g><g filter="url(#bz4)"><ellipse cx="745" cy="160.9" rx="18" ry="40" fill="#ee8468"/></g><g filter="url(#bz6)"><ellipse cx="724.6" cy="291.3" rx="33" ry="49" fill="#f7ac8e"/><ellipse cx="167" cy="169" rx="9" ry="12" fill="#f7ac8e"/><ellipse cx="197.2" cy="152.7" rx="15" ry="19.5" fill="#f7ac8e"/><ellipse cx="221.7" cy="169" rx="15" ry="34.5" fill="#9ebeff"/><ellipse cx="202.1" cy="209.8" rx="12" ry="24" fill="#f7ac8e"/><ellipse cx="259.1" cy="185.3" rx="27" ry="36" fill="#f7ac8e"/><ellipse cx="297.4" cy="181.3" rx="34.5" ry="34.5" fill="#9ebeff"/><ellipse cx="156.5" cy="293.7" rx="12" ry="16.5" fill="#f7ac8e"/><ellipse cx="169.5" cy="289.6" rx="9" ry="12" fill="#9ebeff"/><ellipse cx="405.2" cy="311.6" rx="19.5" ry="30" fill="#9ebeff"/><ellipse cx="449.2" cy="287.2" rx="15" ry="30" fill="#f7ac8e"/></g><g filter="url(#bz4)"><ellipse cx="167" cy="169" rx="6" ry="8" fill="#c0282f"/><ellipse cx="179.3" cy="169" rx="5" ry="10" fill="#5977e3"/><ellipse cx="197.2" cy="152.7" rx="10" ry="13" fill="#b40426"/><ellipse cx="221.7" cy="169" rx="10" ry="23" fill="#3b4cc0"/><ellipse cx="202.1" cy="209.8" rx="8" ry="16" fill="#b40426"/><ellipse cx="259.1" cy="185.3" rx="18" ry="24" fill="#b40426"/><ellipse cx="297.4" cy="181.3" rx="23" ry="23" fill="#3b4cc0"/><ellipse cx="156.5" cy="293.7" rx="8" ry="11" fill="#b40426"/><ellipse cx="169.5" cy="289.6" rx="6" ry="8" fill="#4f69d9"/><ellipse cx="405.2" cy="311.6" rx="13" ry="20" fill="#3b4cc0"/><ellipse cx="449.2" cy="287.2" rx="10" ry="20" fill="#b40426"/></g></g>
</g></g>
<path d="M646 366.5h146.5M646 457.4h146.5" stroke="#222" stroke-width="0.4"/>
<path d="M646.2 457.4v1.6M666.49 457.4v1.6M686.78 457.4v1.6M707.08 457.4v1.6M727.37 457.4v1.6M747.66 457.4v1.6M767.95 457.4v1.6M788.24 457.4v1.6M646.2 452.35h-1.6M646.2 442.25h-1.6M646.2 432.15h-1.6M646.2 422.05h-1.6M646.2 411.95h-1.6M646.2 401.85h-1.6M646.2 391.75h-1.6M646.2 381.65h-1.6M646.2 371.55h-1.6" stroke="#222" stroke-width="0.5"/>
<text transform="translate(646.2 462) scale(0.1)" font-size="33.5" text-anchor="middle">0</text>
<text transform="translate(666.49 462) scale(0.1)" font-size="33.5" text-anchor="middle">50</text>
<text transform="translate(686.78 462) scale(0.1)" font-size="33.5" text-anchor="middle">100</text>
<text transform="translate(707.08 462) scale(0.1)" font-size="33.5" text-anchor="middle">150</text>
<text transform="translate(727.37 462) scale(0.1)" font-size="33.5" text-anchor="middle">200</text>
<text transform="translate(747.66 462) scale(0.1)" font-size="33.5" text-anchor="middle">250</text>
<text transform="translate(767.95 462) scale(0.1)" font-size="33.5" text-anchor="middle">300</text>
<text transform="translate(788.24 462) scale(0.1)" font-size="33.5" text-anchor="middle">350</text>
<text transform="translate(644.1 453.5) scale(0.1)" font-size="33.5" text-anchor="end">−80</text>
<text transform="translate(644.1 443.4) scale(0.1)" font-size="33.5" text-anchor="end">−60</text>
<text transform="translate(644.1 433.3) scale(0.1)" font-size="33.5" text-anchor="end">−40</text>
<text transform="translate(644.1 423.2) scale(0.1)" font-size="33.5" text-anchor="end">−20</text>
<text transform="translate(644.1 413.1) scale(0.1)" font-size="33.5" text-anchor="end">0</text>
<text transform="translate(644.1 403) scale(0.1)" font-size="33.5" text-anchor="end">20</text>
<text transform="translate(644.1 392.9) scale(0.1)" font-size="33.5" text-anchor="end">40</text>
<text transform="translate(644.1 382.8) scale(0.1)" font-size="33.5" text-anchor="end">60</text>
<text transform="translate(644.1 372.7) scale(0.1)" font-size="33.5" text-anchor="end">80</text>
<text transform="translate(719.25 467.8) scale(0.1)" font-size="46" text-anchor="middle">Longitude</text>
<text transform="translate(635.5 411.95) rotate(-90) scale(0.1)" font-size="46" text-anchor="middle">Latitude</text>
<text transform="translate(719.25 365.4) scale(0.1)" font-size="46" text-anchor="middle">Synthetic CR2184</text>
<rect x="801.1" y="366.5" width="4.7" height="90.9" fill="url(#cb)"/>
<path d="M801.1 366.5v90.9M805.8 366.5v90.9" stroke="#222" stroke-width="0.5"/>
<path d="M805.8 457.4h1.5M805.8 449.82h1.5M805.8 442.25h1.5M805.8 434.68h1.5M805.8 427.1h1.5M805.8 419.52h1.5M805.8 411.95h1.5M805.8 404.38h1.5M805.8 396.8h1.5M805.8 389.23h1.5M805.8 381.65h1.5M805.8 374.07h1.5M805.8 366.5h1.5" stroke="#222" stroke-width="0.5"/>
<text transform="translate(808 458.9) scale(0.1)" font-size="33.5">−30</text>
<text transform="translate(808 451.32) scale(0.1)" font-size="33.5">−25</text>
<text transform="translate(808 443.75) scale(0.1)" font-size="33.5">−20</text>
<text transform="translate(808 436.18) scale(0.1)" font-size="33.5">−15</text>
<text transform="translate(808 428.6) scale(0.1)" font-size="33.5">−10</text>
<text transform="translate(808 421.02) scale(0.1)" font-size="33.5">−5</text>
<text transform="translate(808 413.45) scale(0.1)" font-size="33.5">0</text>
<text transform="translate(808 405.88) scale(0.1)" font-size="33.5">5</text>
<text transform="translate(808 398.3) scale(0.1)" font-size="33.5">10</text>
<text transform="translate(808 390.73) scale(0.1)" font-size="33.5">15</text>
<text transform="translate(808 383.15) scale(0.1)" font-size="33.5">20</text>
<text transform="translate(808 375.57) scale(0.1)" font-size="33.5">25</text>
<text transform="translate(808 368) scale(0.1)" font-size="33.5">30</text>
<text transform="translate(818.7 411.95) rotate(-90) scale(0.1)" font-size="36" text-anchor="middle">B (G)</text>
</svg></body></html>
